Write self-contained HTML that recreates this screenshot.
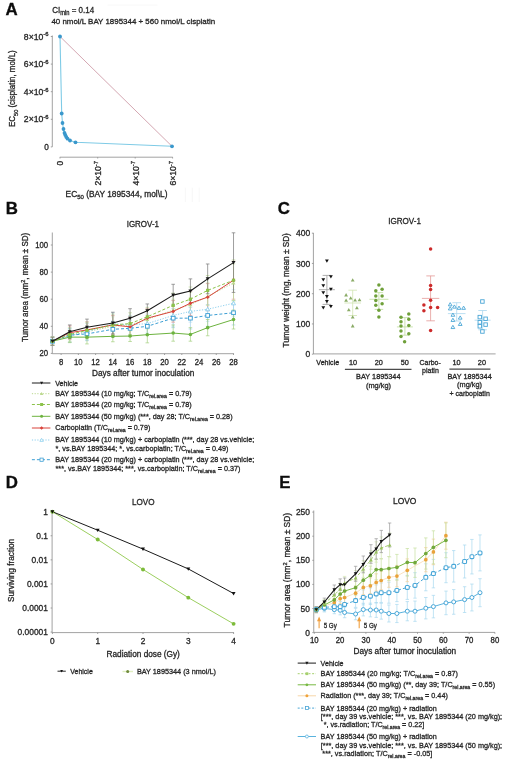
<!DOCTYPE html>
<html><head><meta charset="utf-8"><style>
html,body{margin:0;padding:0;background:#fff;}
svg{display:block;font-family:"Liberation Sans",sans-serif;filter:blur(0.3px);}
</style></head><body>
<svg width="520" height="767" viewBox="0 0 520 767">
<rect width="520" height="767" fill="#fff"/>
<text transform="translate(5.6,14.7) scale(1.040,1)" font-size="16.2" text-anchor="start" font-weight="bold" fill="#0d0d0d" stroke="#0d0d0d" stroke-width="0.3">A</text>
<text transform="translate(5.8,213.6) scale(1.040,1)" font-size="16.2" text-anchor="start" font-weight="bold" fill="#0d0d0d" stroke="#0d0d0d" stroke-width="0.3">B</text>
<text transform="translate(277.7,213.6) scale(1.040,1)" font-size="16.2" text-anchor="start" font-weight="bold" fill="#0d0d0d" stroke="#0d0d0d" stroke-width="0.3">C</text>
<text transform="translate(5.8,487.8) scale(1.040,1)" font-size="16.2" text-anchor="start" font-weight="bold" fill="#0d0d0d" stroke="#0d0d0d" stroke-width="0.3">D</text>
<text transform="translate(279.2,487.8) scale(1.040,1)" font-size="16.2" text-anchor="start" font-weight="bold" fill="#0d0d0d" stroke="#0d0d0d" stroke-width="0.3">E</text>
<text transform="translate(52.3,12.5) scale(0.887,1)" font-size="9" text-anchor="start" fill="#262626" stroke="#262626" stroke-width="0.3">CI<tspan dy="2.34" font-size="6.48">min</tspan><tspan dy="-2.34"> = 0.14</tspan></text>
<text transform="translate(51.4,23.5) scale(1.005,1)" font-size="7.9" text-anchor="start" fill="#262626" stroke="#262626" stroke-width="0.3">40 nmol/L BAY 1895344 + 560 nmol/L cisplatin</text>
<line x1="52.3" y1="35.5" x2="52.3" y2="146.9" stroke="#8a8a8a" stroke-width="0.8" />
<line x1="50.8" y1="146.9" x2="52.3" y2="146.9" stroke="#8a8a8a" stroke-width="0.8" />
<text transform="translate(48.8,149.8)" font-size="8.2" text-anchor="end" fill="#262626" stroke="#262626" stroke-width="0.3">0</text>
<line x1="50.8" y1="119.3" x2="52.3" y2="119.3" stroke="#8a8a8a" stroke-width="0.8" />
<text transform="translate(23.8,122.3) scale(1.059,1)" font-size="8.2" text-anchor="start" fill="#262626" stroke="#262626" stroke-width="0.3">2×10<tspan dy="-3.12" font-size="5.58">-6</tspan></text>
<line x1="50.8" y1="91.7" x2="52.3" y2="91.7" stroke="#8a8a8a" stroke-width="0.8" />
<text transform="translate(23.8,94.7) scale(1.059,1)" font-size="8.2" text-anchor="start" fill="#262626" stroke="#262626" stroke-width="0.3">4×10<tspan dy="-3.12" font-size="5.58">-6</tspan></text>
<line x1="50.8" y1="64.1" x2="52.3" y2="64.1" stroke="#8a8a8a" stroke-width="0.8" />
<text transform="translate(23.8,67.1) scale(1.059,1)" font-size="8.2" text-anchor="start" fill="#262626" stroke="#262626" stroke-width="0.3">6×10<tspan dy="-3.12" font-size="5.58">-6</tspan></text>
<line x1="50.8" y1="36.5" x2="52.3" y2="36.5" stroke="#8a8a8a" stroke-width="0.8" />
<text transform="translate(23.8,39.5) scale(1.059,1)" font-size="8.2" text-anchor="start" fill="#262626" stroke="#262626" stroke-width="0.3">8×10<tspan dy="-3.12" font-size="5.58">-6</tspan></text>
<text transform="translate(15.4,126.9) rotate(-90) scale(0.947,1)" font-size="8.3" text-anchor="start" fill="#262626" stroke="#262626" stroke-width="0.3">EC<tspan dy="2.16" font-size="5.98">50</tspan><tspan dy="-2.16"> (cisplatin, mol/L)</tspan></text>
<line x1="59.8" y1="157.2" x2="172.8" y2="157.2" stroke="#8a8a8a" stroke-width="0.8" />
<line x1="60" y1="157.2" x2="60" y2="158.5" stroke="#8a8a8a" stroke-width="0.8" />
<text transform="translate(63.1,161) rotate(-90)" font-size="8.2" text-anchor="end" fill="#262626" stroke="#262626" stroke-width="0.3">0</text>
<line x1="97.7" y1="157.2" x2="97.7" y2="158.5" stroke="#8a8a8a" stroke-width="0.8" />
<text transform="translate(101,161) rotate(-90) scale(1.050,1)" font-size="8.2" text-anchor="end" fill="#262626" stroke="#262626" stroke-width="0.3">2×10<tspan dy="-3.12" font-size="5.58">-7</tspan></text>
<line x1="135.2" y1="157.2" x2="135.2" y2="158.5" stroke="#8a8a8a" stroke-width="0.8" />
<text transform="translate(138.5,161) rotate(-90) scale(1.050,1)" font-size="8.2" text-anchor="end" fill="#262626" stroke="#262626" stroke-width="0.3">4×10<tspan dy="-3.12" font-size="5.58">-7</tspan></text>
<line x1="172.6" y1="157.2" x2="172.6" y2="158.5" stroke="#8a8a8a" stroke-width="0.8" />
<text transform="translate(175.9,161) rotate(-90) scale(1.050,1)" font-size="8.2" text-anchor="end" fill="#262626" stroke="#262626" stroke-width="0.3">6×10<tspan dy="-3.12" font-size="5.58">-7</tspan></text>
<text transform="translate(65.6,196.6) scale(1.005,1)" font-size="8.3" text-anchor="start" fill="#262626" stroke="#262626" stroke-width="0.3">EC<tspan dy="2.16" font-size="5.98">50</tspan><tspan dy="-2.16"> (BAY 1895344, mol\L)</tspan></text>
<line x1="185.4" y1="187.7" x2="185.4" y2="202" stroke="#f6f6f6" stroke-width="0.9" />
<line x1="192.3" y1="187.7" x2="192.3" y2="202" stroke="#f6f6f6" stroke-width="0.9" />
<line x1="199.2" y1="187.7" x2="199.2" y2="202" stroke="#f7f7f7" stroke-width="0.9" />
<line x1="107.5" y1="5" x2="157.5" y2="5" stroke="#f6f6f6" stroke-width="0.8" />
<line x1="60" y1="36.5" x2="172" y2="146.3" stroke="#c9909e" stroke-width="0.8" />
<polyline points="60,36.5 61.7,113.5 62.5,123 63.5,129 64.5,133 65.3,135 66.3,137 67.5,138.7 70,140.5 75.5,142.3 172,146.3" fill="none" stroke="#7fcbe6" stroke-width="1.1" stroke-linejoin="round" />
<circle cx="60" cy="36.5" r="1.9" fill="#3a98cc"/>
<circle cx="61.7" cy="113.5" r="1.9" fill="#3a98cc"/>
<circle cx="62.5" cy="123" r="1.9" fill="#3a98cc"/>
<circle cx="63.5" cy="129" r="1.9" fill="#3a98cc"/>
<circle cx="64.5" cy="133" r="1.9" fill="#3a98cc"/>
<circle cx="65.3" cy="135" r="1.9" fill="#3a98cc"/>
<circle cx="66.3" cy="137" r="1.9" fill="#3a98cc"/>
<circle cx="67.5" cy="138.7" r="1.9" fill="#3a98cc"/>
<circle cx="70" cy="140.5" r="1.9" fill="#3a98cc"/>
<circle cx="75.5" cy="142.3" r="1.9" fill="#3a98cc"/>
<circle cx="172" cy="146.3" r="1.9" fill="#3a98cc"/>
<text transform="translate(142.85,226.5) scale(0.915,1)" font-size="8.7" text-anchor="middle" fill="#262626" stroke="#262626" stroke-width="0.3">IGROV-1</text>
<line x1="52.3" y1="232.5" x2="52.3" y2="353.7" stroke="#8a8a8a" stroke-width="0.8" />
<line x1="50.8" y1="353.4" x2="52.3" y2="353.4" stroke="#8a8a8a" stroke-width="0.8" />
<text transform="translate(48.1,356.4) scale(0.920,1)" font-size="8.4" text-anchor="end" fill="#262626" stroke="#262626" stroke-width="0.3">20</text>
<line x1="50.8" y1="326.3" x2="52.3" y2="326.3" stroke="#8a8a8a" stroke-width="0.8" />
<text transform="translate(48.1,329.3) scale(0.920,1)" font-size="8.4" text-anchor="end" fill="#262626" stroke="#262626" stroke-width="0.3">40</text>
<line x1="50.8" y1="299.2" x2="52.3" y2="299.2" stroke="#8a8a8a" stroke-width="0.8" />
<text transform="translate(48.1,302.2) scale(0.920,1)" font-size="8.4" text-anchor="end" fill="#262626" stroke="#262626" stroke-width="0.3">60</text>
<line x1="50.8" y1="272.1" x2="52.3" y2="272.1" stroke="#8a8a8a" stroke-width="0.8" />
<text transform="translate(48.1,275.1) scale(0.920,1)" font-size="8.4" text-anchor="end" fill="#262626" stroke="#262626" stroke-width="0.3">80</text>
<line x1="50.8" y1="245" x2="52.3" y2="245" stroke="#8a8a8a" stroke-width="0.8" />
<text transform="translate(48.1,248) scale(0.920,1)" font-size="8.4" text-anchor="end" fill="#262626" stroke="#262626" stroke-width="0.3">100</text>
<line x1="52.3" y1="353.7" x2="234" y2="353.7" stroke="#8a8a8a" stroke-width="0.8" />
<line x1="61.12" y1="353.7" x2="61.12" y2="355" stroke="#8a8a8a" stroke-width="0.8" />
<text transform="translate(61.12,364.8) scale(0.920,1)" font-size="8.4" text-anchor="middle" fill="#262626" stroke="#262626" stroke-width="0.3">8</text>
<line x1="78.36" y1="353.7" x2="78.36" y2="355" stroke="#8a8a8a" stroke-width="0.8" />
<text transform="translate(78.36,364.8) scale(0.920,1)" font-size="8.4" text-anchor="middle" fill="#262626" stroke="#262626" stroke-width="0.3">10</text>
<line x1="95.6" y1="353.7" x2="95.6" y2="355" stroke="#8a8a8a" stroke-width="0.8" />
<text transform="translate(95.6,364.8) scale(0.920,1)" font-size="8.4" text-anchor="middle" fill="#262626" stroke="#262626" stroke-width="0.3">12</text>
<line x1="112.84" y1="353.7" x2="112.84" y2="355" stroke="#8a8a8a" stroke-width="0.8" />
<text transform="translate(112.84,364.8) scale(0.920,1)" font-size="8.4" text-anchor="middle" fill="#262626" stroke="#262626" stroke-width="0.3">14</text>
<line x1="130.08" y1="353.7" x2="130.08" y2="355" stroke="#8a8a8a" stroke-width="0.8" />
<text transform="translate(130.08,364.8) scale(0.920,1)" font-size="8.4" text-anchor="middle" fill="#262626" stroke="#262626" stroke-width="0.3">16</text>
<line x1="147.32" y1="353.7" x2="147.32" y2="355" stroke="#8a8a8a" stroke-width="0.8" />
<text transform="translate(147.32,364.8) scale(0.920,1)" font-size="8.4" text-anchor="middle" fill="#262626" stroke="#262626" stroke-width="0.3">18</text>
<line x1="164.56" y1="353.7" x2="164.56" y2="355" stroke="#8a8a8a" stroke-width="0.8" />
<text transform="translate(164.56,364.8) scale(0.920,1)" font-size="8.4" text-anchor="middle" fill="#262626" stroke="#262626" stroke-width="0.3">20</text>
<line x1="181.8" y1="353.7" x2="181.8" y2="355" stroke="#8a8a8a" stroke-width="0.8" />
<text transform="translate(181.8,364.8) scale(0.920,1)" font-size="8.4" text-anchor="middle" fill="#262626" stroke="#262626" stroke-width="0.3">22</text>
<line x1="199.04" y1="353.7" x2="199.04" y2="355" stroke="#8a8a8a" stroke-width="0.8" />
<text transform="translate(199.04,364.8) scale(0.920,1)" font-size="8.4" text-anchor="middle" fill="#262626" stroke="#262626" stroke-width="0.3">24</text>
<line x1="216.28" y1="353.7" x2="216.28" y2="355" stroke="#8a8a8a" stroke-width="0.8" />
<text transform="translate(216.28,364.8) scale(0.920,1)" font-size="8.4" text-anchor="middle" fill="#262626" stroke="#262626" stroke-width="0.3">26</text>
<line x1="233.52" y1="353.7" x2="233.52" y2="355" stroke="#8a8a8a" stroke-width="0.8" />
<text transform="translate(233.52,364.8) scale(0.920,1)" font-size="8.4" text-anchor="middle" fill="#262626" stroke="#262626" stroke-width="0.3">28</text>
<text transform="translate(92.1,376) scale(0.991,1)" font-size="8.3" text-anchor="start" fill="#262626" stroke="#262626" stroke-width="0.3">Days after tumor inoculation</text>
<text transform="translate(27.8,342) rotate(-90) scale(0.964,1)" font-size="8.3" text-anchor="start" fill="#262626" stroke="#262626" stroke-width="0.3">Tumor area (mm<tspan dy="-3.15" font-size="5.64">2</tspan><tspan dy="3.15">, mean ± SD)</tspan></text>
<line x1="52.5" y1="337.14" x2="52.5" y2="345.27" stroke="#d8e9bd" stroke-width="0.7" />
<line x1="50.7" y1="337.14" x2="54.3" y2="337.14" stroke="#d8e9bd" stroke-width="0.7" />
<line x1="50.7" y1="345.27" x2="54.3" y2="345.27" stroke="#d8e9bd" stroke-width="0.7" />
<line x1="69.74" y1="329.01" x2="69.74" y2="342.56" stroke="#d8e9bd" stroke-width="0.7" />
<line x1="67.94" y1="329.01" x2="71.54" y2="329.01" stroke="#d8e9bd" stroke-width="0.7" />
<line x1="67.94" y1="342.56" x2="71.54" y2="342.56" stroke="#d8e9bd" stroke-width="0.7" />
<line x1="86.98" y1="323.59" x2="86.98" y2="339.85" stroke="#d8e9bd" stroke-width="0.7" />
<line x1="85.18" y1="323.59" x2="88.78" y2="323.59" stroke="#d8e9bd" stroke-width="0.7" />
<line x1="85.18" y1="339.85" x2="88.78" y2="339.85" stroke="#d8e9bd" stroke-width="0.7" />
<line x1="112.84" y1="316.81" x2="112.84" y2="335.78" stroke="#d8e9bd" stroke-width="0.7" />
<line x1="111.04" y1="316.81" x2="114.64" y2="316.81" stroke="#d8e9bd" stroke-width="0.7" />
<line x1="111.04" y1="335.78" x2="114.64" y2="335.78" stroke="#d8e9bd" stroke-width="0.7" />
<line x1="130.08" y1="315.46" x2="130.08" y2="334.43" stroke="#d8e9bd" stroke-width="0.7" />
<line x1="128.28" y1="315.46" x2="131.88" y2="315.46" stroke="#d8e9bd" stroke-width="0.7" />
<line x1="128.28" y1="334.43" x2="131.88" y2="334.43" stroke="#d8e9bd" stroke-width="0.7" />
<line x1="147.32" y1="310.04" x2="147.32" y2="329.01" stroke="#d8e9bd" stroke-width="0.7" />
<line x1="145.52" y1="310.04" x2="149.12" y2="310.04" stroke="#d8e9bd" stroke-width="0.7" />
<line x1="145.52" y1="329.01" x2="149.12" y2="329.01" stroke="#d8e9bd" stroke-width="0.7" />
<line x1="173.18" y1="299.2" x2="173.18" y2="320.88" stroke="#d8e9bd" stroke-width="0.7" />
<line x1="171.38" y1="299.2" x2="174.98" y2="299.2" stroke="#d8e9bd" stroke-width="0.7" />
<line x1="171.38" y1="320.88" x2="174.98" y2="320.88" stroke="#d8e9bd" stroke-width="0.7" />
<line x1="190.42" y1="292.42" x2="190.42" y2="316.81" stroke="#d8e9bd" stroke-width="0.7" />
<line x1="188.62" y1="292.42" x2="192.22" y2="292.42" stroke="#d8e9bd" stroke-width="0.7" />
<line x1="188.62" y1="316.81" x2="192.22" y2="316.81" stroke="#d8e9bd" stroke-width="0.7" />
<line x1="207.66" y1="282.94" x2="207.66" y2="310.04" stroke="#d8e9bd" stroke-width="0.7" />
<line x1="205.86" y1="282.94" x2="209.46" y2="282.94" stroke="#d8e9bd" stroke-width="0.7" />
<line x1="205.86" y1="310.04" x2="209.46" y2="310.04" stroke="#d8e9bd" stroke-width="0.7" />
<line x1="233.52" y1="263.97" x2="233.52" y2="301.91" stroke="#d8e9bd" stroke-width="0.7" />
<line x1="231.72" y1="263.97" x2="235.32" y2="263.97" stroke="#d8e9bd" stroke-width="0.7" />
<line x1="231.72" y1="301.91" x2="235.32" y2="301.91" stroke="#d8e9bd" stroke-width="0.7" />
<line x1="52.5" y1="337.14" x2="52.5" y2="345.27" stroke="#bfe3f3" stroke-width="0.7" />
<line x1="50.7" y1="337.14" x2="54.3" y2="337.14" stroke="#bfe3f3" stroke-width="0.7" />
<line x1="50.7" y1="345.27" x2="54.3" y2="345.27" stroke="#bfe3f3" stroke-width="0.7" />
<line x1="69.74" y1="329.01" x2="69.74" y2="342.56" stroke="#bfe3f3" stroke-width="0.7" />
<line x1="67.94" y1="329.01" x2="71.54" y2="329.01" stroke="#bfe3f3" stroke-width="0.7" />
<line x1="67.94" y1="342.56" x2="71.54" y2="342.56" stroke="#bfe3f3" stroke-width="0.7" />
<line x1="86.98" y1="323.59" x2="86.98" y2="339.85" stroke="#bfe3f3" stroke-width="0.7" />
<line x1="85.18" y1="323.59" x2="88.78" y2="323.59" stroke="#bfe3f3" stroke-width="0.7" />
<line x1="85.18" y1="339.85" x2="88.78" y2="339.85" stroke="#bfe3f3" stroke-width="0.7" />
<line x1="112.84" y1="312.75" x2="112.84" y2="334.43" stroke="#bfe3f3" stroke-width="0.7" />
<line x1="111.04" y1="312.75" x2="114.64" y2="312.75" stroke="#bfe3f3" stroke-width="0.7" />
<line x1="111.04" y1="334.43" x2="114.64" y2="334.43" stroke="#bfe3f3" stroke-width="0.7" />
<line x1="130.08" y1="315.46" x2="130.08" y2="334.43" stroke="#bfe3f3" stroke-width="0.7" />
<line x1="128.28" y1="315.46" x2="131.88" y2="315.46" stroke="#bfe3f3" stroke-width="0.7" />
<line x1="128.28" y1="334.43" x2="131.88" y2="334.43" stroke="#bfe3f3" stroke-width="0.7" />
<line x1="147.32" y1="314.1" x2="147.32" y2="333.07" stroke="#bfe3f3" stroke-width="0.7" />
<line x1="145.52" y1="314.1" x2="149.12" y2="314.1" stroke="#bfe3f3" stroke-width="0.7" />
<line x1="145.52" y1="333.07" x2="149.12" y2="333.07" stroke="#bfe3f3" stroke-width="0.7" />
<line x1="173.18" y1="304.62" x2="173.18" y2="326.3" stroke="#bfe3f3" stroke-width="0.7" />
<line x1="171.38" y1="304.62" x2="174.98" y2="304.62" stroke="#bfe3f3" stroke-width="0.7" />
<line x1="171.38" y1="326.3" x2="174.98" y2="326.3" stroke="#bfe3f3" stroke-width="0.7" />
<line x1="190.42" y1="300.55" x2="190.42" y2="322.23" stroke="#bfe3f3" stroke-width="0.7" />
<line x1="188.62" y1="300.55" x2="192.22" y2="300.55" stroke="#bfe3f3" stroke-width="0.7" />
<line x1="188.62" y1="322.23" x2="192.22" y2="322.23" stroke="#bfe3f3" stroke-width="0.7" />
<line x1="207.66" y1="297.03" x2="207.66" y2="321.42" stroke="#bfe3f3" stroke-width="0.7" />
<line x1="205.86" y1="297.03" x2="209.46" y2="297.03" stroke="#bfe3f3" stroke-width="0.7" />
<line x1="205.86" y1="321.42" x2="209.46" y2="321.42" stroke="#bfe3f3" stroke-width="0.7" />
<line x1="233.52" y1="289.71" x2="233.52" y2="316.81" stroke="#bfe3f3" stroke-width="0.7" />
<line x1="231.72" y1="289.71" x2="235.32" y2="289.71" stroke="#bfe3f3" stroke-width="0.7" />
<line x1="231.72" y1="316.81" x2="235.32" y2="316.81" stroke="#bfe3f3" stroke-width="0.7" />
<line x1="52.5" y1="337.14" x2="52.5" y2="345.27" stroke="#9fcfea" stroke-width="0.7" />
<line x1="50.7" y1="337.14" x2="54.3" y2="337.14" stroke="#9fcfea" stroke-width="0.7" />
<line x1="50.7" y1="345.27" x2="54.3" y2="345.27" stroke="#9fcfea" stroke-width="0.7" />
<line x1="69.74" y1="328.33" x2="69.74" y2="341.88" stroke="#9fcfea" stroke-width="0.7" />
<line x1="67.94" y1="328.33" x2="71.54" y2="328.33" stroke="#9fcfea" stroke-width="0.7" />
<line x1="67.94" y1="341.88" x2="71.54" y2="341.88" stroke="#9fcfea" stroke-width="0.7" />
<line x1="86.98" y1="327.11" x2="86.98" y2="340.66" stroke="#9fcfea" stroke-width="0.7" />
<line x1="85.18" y1="327.11" x2="88.78" y2="327.11" stroke="#9fcfea" stroke-width="0.7" />
<line x1="85.18" y1="340.66" x2="88.78" y2="340.66" stroke="#9fcfea" stroke-width="0.7" />
<line x1="112.84" y1="321.15" x2="112.84" y2="337.41" stroke="#9fcfea" stroke-width="0.7" />
<line x1="111.04" y1="321.15" x2="114.64" y2="321.15" stroke="#9fcfea" stroke-width="0.7" />
<line x1="111.04" y1="337.41" x2="114.64" y2="337.41" stroke="#9fcfea" stroke-width="0.7" />
<line x1="130.08" y1="320.2" x2="130.08" y2="336.46" stroke="#9fcfea" stroke-width="0.7" />
<line x1="128.28" y1="320.2" x2="131.88" y2="320.2" stroke="#9fcfea" stroke-width="0.7" />
<line x1="128.28" y1="336.46" x2="131.88" y2="336.46" stroke="#9fcfea" stroke-width="0.7" />
<line x1="147.32" y1="318.17" x2="147.32" y2="334.43" stroke="#9fcfea" stroke-width="0.7" />
<line x1="145.52" y1="318.17" x2="149.12" y2="318.17" stroke="#9fcfea" stroke-width="0.7" />
<line x1="145.52" y1="334.43" x2="149.12" y2="334.43" stroke="#9fcfea" stroke-width="0.7" />
<line x1="173.18" y1="308.69" x2="173.18" y2="327.65" stroke="#9fcfea" stroke-width="0.7" />
<line x1="171.38" y1="308.69" x2="174.98" y2="308.69" stroke="#9fcfea" stroke-width="0.7" />
<line x1="171.38" y1="327.65" x2="174.98" y2="327.65" stroke="#9fcfea" stroke-width="0.7" />
<line x1="190.42" y1="307.33" x2="190.42" y2="329.01" stroke="#9fcfea" stroke-width="0.7" />
<line x1="188.62" y1="307.33" x2="192.22" y2="307.33" stroke="#9fcfea" stroke-width="0.7" />
<line x1="188.62" y1="329.01" x2="192.22" y2="329.01" stroke="#9fcfea" stroke-width="0.7" />
<line x1="207.66" y1="304.62" x2="207.66" y2="326.3" stroke="#9fcfea" stroke-width="0.7" />
<line x1="205.86" y1="304.62" x2="209.46" y2="304.62" stroke="#9fcfea" stroke-width="0.7" />
<line x1="205.86" y1="326.3" x2="209.46" y2="326.3" stroke="#9fcfea" stroke-width="0.7" />
<line x1="233.52" y1="300.55" x2="233.52" y2="324.94" stroke="#9fcfea" stroke-width="0.7" />
<line x1="231.72" y1="300.55" x2="235.32" y2="300.55" stroke="#9fcfea" stroke-width="0.7" />
<line x1="231.72" y1="324.94" x2="235.32" y2="324.94" stroke="#9fcfea" stroke-width="0.7" />
<line x1="52.5" y1="337.14" x2="52.5" y2="345.27" stroke="#a5d080" stroke-width="0.7" />
<line x1="50.7" y1="337.14" x2="54.3" y2="337.14" stroke="#a5d080" stroke-width="0.7" />
<line x1="50.7" y1="345.27" x2="54.3" y2="345.27" stroke="#a5d080" stroke-width="0.7" />
<line x1="69.74" y1="331.72" x2="69.74" y2="342.56" stroke="#a5d080" stroke-width="0.7" />
<line x1="67.94" y1="331.72" x2="71.54" y2="331.72" stroke="#a5d080" stroke-width="0.7" />
<line x1="67.94" y1="342.56" x2="71.54" y2="342.56" stroke="#a5d080" stroke-width="0.7" />
<line x1="86.98" y1="330.36" x2="86.98" y2="343.91" stroke="#a5d080" stroke-width="0.7" />
<line x1="85.18" y1="330.36" x2="88.78" y2="330.36" stroke="#a5d080" stroke-width="0.7" />
<line x1="85.18" y1="343.91" x2="88.78" y2="343.91" stroke="#a5d080" stroke-width="0.7" />
<line x1="112.84" y1="330.91" x2="112.84" y2="341.75" stroke="#a5d080" stroke-width="0.7" />
<line x1="111.04" y1="330.91" x2="114.64" y2="330.91" stroke="#a5d080" stroke-width="0.7" />
<line x1="111.04" y1="341.75" x2="114.64" y2="341.75" stroke="#a5d080" stroke-width="0.7" />
<line x1="130.08" y1="330.64" x2="130.08" y2="341.48" stroke="#a5d080" stroke-width="0.7" />
<line x1="128.28" y1="330.64" x2="131.88" y2="330.64" stroke="#a5d080" stroke-width="0.7" />
<line x1="128.28" y1="341.48" x2="131.88" y2="341.48" stroke="#a5d080" stroke-width="0.7" />
<line x1="147.32" y1="326.57" x2="147.32" y2="342.83" stroke="#a5d080" stroke-width="0.7" />
<line x1="145.52" y1="326.57" x2="149.12" y2="326.57" stroke="#a5d080" stroke-width="0.7" />
<line x1="145.52" y1="342.83" x2="149.12" y2="342.83" stroke="#a5d080" stroke-width="0.7" />
<line x1="173.18" y1="324.94" x2="173.18" y2="341.2" stroke="#a5d080" stroke-width="0.7" />
<line x1="171.38" y1="324.94" x2="174.98" y2="324.94" stroke="#a5d080" stroke-width="0.7" />
<line x1="171.38" y1="341.2" x2="174.98" y2="341.2" stroke="#a5d080" stroke-width="0.7" />
<line x1="190.42" y1="327.65" x2="190.42" y2="341.2" stroke="#a5d080" stroke-width="0.7" />
<line x1="188.62" y1="327.65" x2="192.22" y2="327.65" stroke="#a5d080" stroke-width="0.7" />
<line x1="188.62" y1="341.2" x2="192.22" y2="341.2" stroke="#a5d080" stroke-width="0.7" />
<line x1="207.66" y1="319.52" x2="207.66" y2="335.78" stroke="#a5d080" stroke-width="0.7" />
<line x1="205.86" y1="319.52" x2="209.46" y2="319.52" stroke="#a5d080" stroke-width="0.7" />
<line x1="205.86" y1="335.78" x2="209.46" y2="335.78" stroke="#a5d080" stroke-width="0.7" />
<line x1="233.52" y1="310.04" x2="233.52" y2="329.01" stroke="#a5d080" stroke-width="0.7" />
<line x1="231.72" y1="310.04" x2="235.32" y2="310.04" stroke="#a5d080" stroke-width="0.7" />
<line x1="231.72" y1="329.01" x2="235.32" y2="329.01" stroke="#a5d080" stroke-width="0.7" />
<line x1="52.5" y1="337.14" x2="52.5" y2="345.27" stroke="#e29a95" stroke-width="0.7" />
<line x1="50.7" y1="337.14" x2="54.3" y2="337.14" stroke="#e29a95" stroke-width="0.7" />
<line x1="50.7" y1="345.27" x2="54.3" y2="345.27" stroke="#e29a95" stroke-width="0.7" />
<line x1="69.74" y1="325.89" x2="69.74" y2="339.44" stroke="#e29a95" stroke-width="0.7" />
<line x1="67.94" y1="325.89" x2="71.54" y2="325.89" stroke="#e29a95" stroke-width="0.7" />
<line x1="67.94" y1="339.44" x2="71.54" y2="339.44" stroke="#e29a95" stroke-width="0.7" />
<line x1="86.98" y1="321.83" x2="86.98" y2="338.09" stroke="#e29a95" stroke-width="0.7" />
<line x1="85.18" y1="321.83" x2="88.78" y2="321.83" stroke="#e29a95" stroke-width="0.7" />
<line x1="85.18" y1="338.09" x2="88.78" y2="338.09" stroke="#e29a95" stroke-width="0.7" />
<line x1="112.84" y1="315.46" x2="112.84" y2="334.43" stroke="#e29a95" stroke-width="0.7" />
<line x1="111.04" y1="315.46" x2="114.64" y2="315.46" stroke="#e29a95" stroke-width="0.7" />
<line x1="111.04" y1="334.43" x2="114.64" y2="334.43" stroke="#e29a95" stroke-width="0.7" />
<line x1="130.08" y1="317.36" x2="130.08" y2="336.33" stroke="#e29a95" stroke-width="0.7" />
<line x1="128.28" y1="317.36" x2="131.88" y2="317.36" stroke="#e29a95" stroke-width="0.7" />
<line x1="128.28" y1="336.33" x2="131.88" y2="336.33" stroke="#e29a95" stroke-width="0.7" />
<line x1="147.32" y1="308.69" x2="147.32" y2="327.65" stroke="#e29a95" stroke-width="0.7" />
<line x1="145.52" y1="308.69" x2="149.12" y2="308.69" stroke="#e29a95" stroke-width="0.7" />
<line x1="145.52" y1="327.65" x2="149.12" y2="327.65" stroke="#e29a95" stroke-width="0.7" />
<line x1="173.18" y1="300.55" x2="173.18" y2="322.23" stroke="#e29a95" stroke-width="0.7" />
<line x1="171.38" y1="300.55" x2="174.98" y2="300.55" stroke="#e29a95" stroke-width="0.7" />
<line x1="171.38" y1="322.23" x2="174.98" y2="322.23" stroke="#e29a95" stroke-width="0.7" />
<line x1="190.42" y1="291.07" x2="190.42" y2="315.46" stroke="#e29a95" stroke-width="0.7" />
<line x1="188.62" y1="291.07" x2="192.22" y2="291.07" stroke="#e29a95" stroke-width="0.7" />
<line x1="188.62" y1="315.46" x2="192.22" y2="315.46" stroke="#e29a95" stroke-width="0.7" />
<line x1="207.66" y1="283.62" x2="207.66" y2="310.72" stroke="#e29a95" stroke-width="0.7" />
<line x1="205.86" y1="283.62" x2="209.46" y2="283.62" stroke="#e29a95" stroke-width="0.7" />
<line x1="205.86" y1="310.72" x2="209.46" y2="310.72" stroke="#e29a95" stroke-width="0.7" />
<line x1="233.52" y1="261.26" x2="233.52" y2="299.2" stroke="#e29a95" stroke-width="0.7" />
<line x1="231.72" y1="261.26" x2="235.32" y2="261.26" stroke="#e29a95" stroke-width="0.7" />
<line x1="231.72" y1="299.2" x2="235.32" y2="299.2" stroke="#e29a95" stroke-width="0.7" />
<line x1="52.5" y1="337.14" x2="52.5" y2="345.27" stroke="#c2de9c" stroke-width="0.7" />
<line x1="50.7" y1="337.14" x2="54.3" y2="337.14" stroke="#c2de9c" stroke-width="0.7" />
<line x1="50.7" y1="345.27" x2="54.3" y2="345.27" stroke="#c2de9c" stroke-width="0.7" />
<line x1="69.74" y1="327.65" x2="69.74" y2="341.2" stroke="#c2de9c" stroke-width="0.7" />
<line x1="67.94" y1="327.65" x2="71.54" y2="327.65" stroke="#c2de9c" stroke-width="0.7" />
<line x1="67.94" y1="341.2" x2="71.54" y2="341.2" stroke="#c2de9c" stroke-width="0.7" />
<line x1="86.98" y1="322.23" x2="86.98" y2="338.5" stroke="#c2de9c" stroke-width="0.7" />
<line x1="85.18" y1="322.23" x2="88.78" y2="322.23" stroke="#c2de9c" stroke-width="0.7" />
<line x1="85.18" y1="338.5" x2="88.78" y2="338.5" stroke="#c2de9c" stroke-width="0.7" />
<line x1="112.84" y1="314.1" x2="112.84" y2="335.78" stroke="#c2de9c" stroke-width="0.7" />
<line x1="111.04" y1="314.1" x2="114.64" y2="314.1" stroke="#c2de9c" stroke-width="0.7" />
<line x1="111.04" y1="335.78" x2="114.64" y2="335.78" stroke="#c2de9c" stroke-width="0.7" />
<line x1="130.08" y1="312.75" x2="130.08" y2="334.43" stroke="#c2de9c" stroke-width="0.7" />
<line x1="128.28" y1="312.75" x2="131.88" y2="312.75" stroke="#c2de9c" stroke-width="0.7" />
<line x1="128.28" y1="334.43" x2="131.88" y2="334.43" stroke="#c2de9c" stroke-width="0.7" />
<line x1="147.32" y1="307.33" x2="147.32" y2="326.3" stroke="#c2de9c" stroke-width="0.7" />
<line x1="145.52" y1="307.33" x2="149.12" y2="307.33" stroke="#c2de9c" stroke-width="0.7" />
<line x1="145.52" y1="326.3" x2="149.12" y2="326.3" stroke="#c2de9c" stroke-width="0.7" />
<line x1="173.18" y1="293.1" x2="173.18" y2="317.49" stroke="#c2de9c" stroke-width="0.7" />
<line x1="171.38" y1="293.1" x2="174.98" y2="293.1" stroke="#c2de9c" stroke-width="0.7" />
<line x1="171.38" y1="317.49" x2="174.98" y2="317.49" stroke="#c2de9c" stroke-width="0.7" />
<line x1="190.42" y1="287" x2="190.42" y2="311.39" stroke="#c2de9c" stroke-width="0.7" />
<line x1="188.62" y1="287" x2="192.22" y2="287" stroke="#c2de9c" stroke-width="0.7" />
<line x1="188.62" y1="311.39" x2="192.22" y2="311.39" stroke="#c2de9c" stroke-width="0.7" />
<line x1="207.66" y1="275.49" x2="207.66" y2="305.3" stroke="#c2de9c" stroke-width="0.7" />
<line x1="205.86" y1="275.49" x2="209.46" y2="275.49" stroke="#c2de9c" stroke-width="0.7" />
<line x1="205.86" y1="305.3" x2="209.46" y2="305.3" stroke="#c2de9c" stroke-width="0.7" />
<line x1="233.52" y1="259.9" x2="233.52" y2="300.55" stroke="#c2de9c" stroke-width="0.7" />
<line x1="231.72" y1="259.9" x2="235.32" y2="259.9" stroke="#c2de9c" stroke-width="0.7" />
<line x1="231.72" y1="300.55" x2="235.32" y2="300.55" stroke="#c2de9c" stroke-width="0.7" />
<line x1="52.5" y1="337.14" x2="52.5" y2="345.27" stroke="#777" stroke-width="0.7" />
<line x1="50.7" y1="337.14" x2="54.3" y2="337.14" stroke="#777" stroke-width="0.7" />
<line x1="50.7" y1="345.27" x2="54.3" y2="345.27" stroke="#777" stroke-width="0.7" />
<line x1="69.74" y1="324.94" x2="69.74" y2="338.5" stroke="#777" stroke-width="0.7" />
<line x1="67.94" y1="324.94" x2="71.54" y2="324.94" stroke="#777" stroke-width="0.7" />
<line x1="67.94" y1="338.5" x2="71.54" y2="338.5" stroke="#777" stroke-width="0.7" />
<line x1="86.98" y1="319.12" x2="86.98" y2="335.38" stroke="#777" stroke-width="0.7" />
<line x1="85.18" y1="319.12" x2="88.78" y2="319.12" stroke="#777" stroke-width="0.7" />
<line x1="85.18" y1="335.38" x2="88.78" y2="335.38" stroke="#777" stroke-width="0.7" />
<line x1="112.84" y1="312.21" x2="112.84" y2="333.89" stroke="#777" stroke-width="0.7" />
<line x1="111.04" y1="312.21" x2="114.64" y2="312.21" stroke="#777" stroke-width="0.7" />
<line x1="111.04" y1="333.89" x2="114.64" y2="333.89" stroke="#777" stroke-width="0.7" />
<line x1="130.08" y1="308.69" x2="130.08" y2="327.65" stroke="#777" stroke-width="0.7" />
<line x1="128.28" y1="308.69" x2="131.88" y2="308.69" stroke="#777" stroke-width="0.7" />
<line x1="128.28" y1="327.65" x2="131.88" y2="327.65" stroke="#777" stroke-width="0.7" />
<line x1="147.32" y1="303.94" x2="147.32" y2="317.49" stroke="#777" stroke-width="0.7" />
<line x1="145.52" y1="303.94" x2="149.12" y2="303.94" stroke="#777" stroke-width="0.7" />
<line x1="145.52" y1="317.49" x2="149.12" y2="317.49" stroke="#777" stroke-width="0.7" />
<line x1="173.18" y1="284.29" x2="173.18" y2="305.97" stroke="#777" stroke-width="0.7" />
<line x1="171.38" y1="284.29" x2="174.98" y2="284.29" stroke="#777" stroke-width="0.7" />
<line x1="171.38" y1="305.97" x2="174.98" y2="305.97" stroke="#777" stroke-width="0.7" />
<line x1="190.42" y1="278.88" x2="190.42" y2="303.26" stroke="#777" stroke-width="0.7" />
<line x1="188.62" y1="278.88" x2="192.22" y2="278.88" stroke="#777" stroke-width="0.7" />
<line x1="188.62" y1="303.26" x2="192.22" y2="303.26" stroke="#777" stroke-width="0.7" />
<line x1="207.66" y1="263.97" x2="207.66" y2="293.78" stroke="#777" stroke-width="0.7" />
<line x1="205.86" y1="263.97" x2="209.46" y2="263.97" stroke="#777" stroke-width="0.7" />
<line x1="205.86" y1="293.78" x2="209.46" y2="293.78" stroke="#777" stroke-width="0.7" />
<line x1="233.52" y1="232.8" x2="233.52" y2="292.42" stroke="#777" stroke-width="0.7" />
<line x1="231.72" y1="232.8" x2="235.32" y2="232.8" stroke="#777" stroke-width="0.7" />
<line x1="231.72" y1="292.42" x2="235.32" y2="292.42" stroke="#777" stroke-width="0.7" />
<polyline points="52.5,341.2 69.74,335.78 86.98,331.72 112.84,326.3 130.08,324.94 147.32,319.52 173.18,310.04 190.42,304.62 207.66,296.49 233.52,282.94" fill="none" stroke="#bcd98f" stroke-width="1" stroke-dasharray="1.2,1.5" stroke-linejoin="round" />
<path d="M50.55 342.73L54.45 342.73L52.5 339.33Z" fill="#bcd98f"/>
<path d="M67.78 337.31L71.69 337.31L69.74 333.91Z" fill="#bcd98f"/>
<path d="M85.02 333.25L88.93 333.25L86.98 329.85Z" fill="#bcd98f"/>
<path d="M110.89 327.83L114.8 327.83L112.84 324.43Z" fill="#bcd98f"/>
<path d="M128.12 326.47L132.03 326.47L130.08 323.07Z" fill="#bcd98f"/>
<path d="M145.36 321.05L149.28 321.05L147.32 317.65Z" fill="#bcd98f"/>
<path d="M171.22 311.57L175.14 311.57L173.18 308.17Z" fill="#bcd98f"/>
<path d="M188.46 306.15L192.38 306.15L190.42 302.75Z" fill="#bcd98f"/>
<path d="M205.7 298.02L209.62 298.02L207.66 294.62Z" fill="#bcd98f"/>
<path d="M231.56 284.47L235.47 284.47L233.52 281.07Z" fill="#bcd98f"/>
<polyline points="52.5,341.2 69.74,335.78 86.98,331.72 112.84,323.59 130.08,324.94 147.32,323.59 173.18,315.46 190.42,311.39 207.66,309.23 233.52,303.26" fill="none" stroke="#8fd0ee" stroke-width="1" stroke-dasharray="1.2,1.5" stroke-linejoin="round" />
<path d="M50.47 342.78L54.53 342.78L52.5 339.26Z" fill="#fff" stroke="#8fd0ee" stroke-width="0.95"/>
<path d="M67.7 337.36L71.77 337.36L69.74 333.84Z" fill="#fff" stroke="#8fd0ee" stroke-width="0.95"/>
<path d="M84.94 333.29L89.01 333.29L86.98 329.78Z" fill="#fff" stroke="#8fd0ee" stroke-width="0.95"/>
<path d="M110.81 325.16L114.88 325.16L112.84 321.65Z" fill="#fff" stroke="#8fd0ee" stroke-width="0.95"/>
<path d="M128.04 326.52L132.11 326.52L130.08 323Z" fill="#fff" stroke="#8fd0ee" stroke-width="0.95"/>
<path d="M145.28 325.16L149.35 325.16L147.32 321.65Z" fill="#fff" stroke="#8fd0ee" stroke-width="0.95"/>
<path d="M171.15 317.03L175.22 317.03L173.18 313.52Z" fill="#fff" stroke="#8fd0ee" stroke-width="0.95"/>
<path d="M188.38 312.97L192.45 312.97L190.42 309.45Z" fill="#fff" stroke="#8fd0ee" stroke-width="0.95"/>
<path d="M205.62 310.8L209.69 310.8L207.66 307.28Z" fill="#fff" stroke="#8fd0ee" stroke-width="0.95"/>
<path d="M231.48 304.84L235.55 304.84L233.52 301.32Z" fill="#fff" stroke="#8fd0ee" stroke-width="0.95"/>
<polyline points="52.5,341.2 69.74,335.11 86.98,333.89 112.84,329.28 130.08,328.33 147.32,326.3 173.18,318.17 190.42,318.17 207.66,315.46 233.52,312.75" fill="none" stroke="#3d9fd4" stroke-width="1" stroke-dasharray="3,2" stroke-linejoin="round" />
<rect x="50.65" y="339.35" width="3.7" height="3.7" fill="#fff" stroke="#3d9fd4" stroke-width="0.95"/>
<rect x="67.89" y="333.26" width="3.7" height="3.7" fill="#fff" stroke="#3d9fd4" stroke-width="0.95"/>
<rect x="85.13" y="332.04" width="3.7" height="3.7" fill="#fff" stroke="#3d9fd4" stroke-width="0.95"/>
<rect x="110.99" y="327.43" width="3.7" height="3.7" fill="#fff" stroke="#3d9fd4" stroke-width="0.95"/>
<rect x="128.23" y="326.48" width="3.7" height="3.7" fill="#fff" stroke="#3d9fd4" stroke-width="0.95"/>
<rect x="145.47" y="324.45" width="3.7" height="3.7" fill="#fff" stroke="#3d9fd4" stroke-width="0.95"/>
<rect x="171.33" y="316.32" width="3.7" height="3.7" fill="#fff" stroke="#3d9fd4" stroke-width="0.95"/>
<rect x="188.57" y="316.32" width="3.7" height="3.7" fill="#fff" stroke="#3d9fd4" stroke-width="0.95"/>
<rect x="205.81" y="313.61" width="3.7" height="3.7" fill="#fff" stroke="#3d9fd4" stroke-width="0.95"/>
<rect x="231.67" y="310.9" width="3.7" height="3.7" fill="#fff" stroke="#3d9fd4" stroke-width="0.95"/>
<polyline points="52.5,341.2 69.74,337.14 86.98,337.14 112.84,336.33 130.08,336.06 147.32,334.7 173.18,333.07 190.42,334.43 207.66,327.65 233.52,319.52" fill="none" stroke="#6db33f" stroke-width="1" stroke-linejoin="round" />
<circle cx="52.5" cy="341.2" r="1.8" fill="#6db33f"/>
<circle cx="69.74" cy="337.14" r="1.8" fill="#6db33f"/>
<circle cx="86.98" cy="337.14" r="1.8" fill="#6db33f"/>
<circle cx="112.84" cy="336.33" r="1.8" fill="#6db33f"/>
<circle cx="130.08" cy="336.06" r="1.8" fill="#6db33f"/>
<circle cx="147.32" cy="334.7" r="1.8" fill="#6db33f"/>
<circle cx="173.18" cy="333.07" r="1.8" fill="#6db33f"/>
<circle cx="190.42" cy="334.43" r="1.8" fill="#6db33f"/>
<circle cx="207.66" cy="327.65" r="1.8" fill="#6db33f"/>
<circle cx="233.52" cy="319.52" r="1.8" fill="#6db33f"/>
<polyline points="52.5,341.2 69.74,332.67 86.98,329.96 112.84,324.94 130.08,326.84 147.32,318.17 173.18,311.39 190.42,303.26 207.66,297.17 233.52,280.23" fill="none" stroke="#d9433b" stroke-width="1" stroke-linejoin="round" />
<path d="M52.5 339.28L54.42 341.2L52.5 343.12L50.58 341.2Z" fill="#d9433b"/>
<path d="M69.74 330.75L71.66 332.67L69.74 334.59L67.82 332.67Z" fill="#d9433b"/>
<path d="M86.98 328.04L88.9 329.96L86.98 331.88L85.06 329.96Z" fill="#d9433b"/>
<path d="M112.84 323.02L114.76 324.94L112.84 326.87L110.92 324.94Z" fill="#d9433b"/>
<path d="M130.08 324.92L132 326.84L130.08 328.76L128.16 326.84Z" fill="#d9433b"/>
<path d="M147.32 316.25L149.24 318.17L147.32 320.09L145.4 318.17Z" fill="#d9433b"/>
<path d="M173.18 309.47L175.1 311.39L173.18 313.31L171.26 311.39Z" fill="#d9433b"/>
<path d="M190.42 301.34L192.34 303.26L190.42 305.19L188.5 303.26Z" fill="#d9433b"/>
<path d="M207.66 295.25L209.58 297.17L207.66 299.09L205.74 297.17Z" fill="#d9433b"/>
<path d="M233.52 278.31L235.44 280.23L233.52 282.15L231.6 280.23Z" fill="#d9433b"/>
<polyline points="52.5,341.2 69.74,334.43 86.98,330.36 112.84,324.94 130.08,323.59 147.32,316.81 173.18,305.3 190.42,299.2 207.66,290.39 233.52,280.23" fill="none" stroke="#8cc24a" stroke-width="1" stroke-dasharray="3,2" stroke-linejoin="round" />
<rect x="50.9" y="339.6" width="3.2" height="3.2" fill="#8cc24a"/>
<rect x="68.14" y="332.83" width="3.2" height="3.2" fill="#8cc24a"/>
<rect x="85.38" y="328.76" width="3.2" height="3.2" fill="#8cc24a"/>
<rect x="111.24" y="323.34" width="3.2" height="3.2" fill="#8cc24a"/>
<rect x="128.48" y="321.99" width="3.2" height="3.2" fill="#8cc24a"/>
<rect x="145.72" y="315.21" width="3.2" height="3.2" fill="#8cc24a"/>
<rect x="171.58" y="303.7" width="3.2" height="3.2" fill="#8cc24a"/>
<rect x="188.82" y="297.6" width="3.2" height="3.2" fill="#8cc24a"/>
<rect x="206.06" y="288.79" width="3.2" height="3.2" fill="#8cc24a"/>
<rect x="231.92" y="278.63" width="3.2" height="3.2" fill="#8cc24a"/>
<polyline points="52.5,341.2 69.74,331.72 86.98,327.25 112.84,323.05 130.08,318.17 147.32,310.72 173.18,295.13 190.42,291.07 207.66,278.88 233.52,262.62" fill="none" stroke="#1a1a1a" stroke-width="1.1" stroke-linejoin="round" />
<path d="M50.55 339.68L54.45 339.68L52.5 343.07Z" fill="#1a1a1a"/>
<path d="M67.78 330.19L71.69 330.19L69.74 333.59Z" fill="#1a1a1a"/>
<path d="M85.02 325.72L88.93 325.72L86.98 329.12Z" fill="#1a1a1a"/>
<path d="M110.89 321.52L114.8 321.52L112.84 324.92Z" fill="#1a1a1a"/>
<path d="M128.12 316.64L132.03 316.64L130.08 320.04Z" fill="#1a1a1a"/>
<path d="M145.36 309.19L149.28 309.19L147.32 312.59Z" fill="#1a1a1a"/>
<path d="M171.22 293.61L175.14 293.61L173.18 297Z" fill="#1a1a1a"/>
<path d="M188.46 289.54L192.38 289.54L190.42 292.94Z" fill="#1a1a1a"/>
<path d="M205.7 277.35L209.62 277.35L207.66 280.75Z" fill="#1a1a1a"/>
<path d="M231.56 261.09L235.47 261.09L233.52 264.49Z" fill="#1a1a1a"/>
<line x1="31.9" y1="383" x2="50.4" y2="383" stroke="#1a1a1a" stroke-width="1" />
<path d="M39.99 381.74L43.21 381.74L41.6 384.54Z" fill="#1a1a1a"/>
<text transform="translate(55.2,386) scale(0.888,1)" font-size="8" text-anchor="start" fill="#262626" stroke="#262626" stroke-width="0.3">Vehicle</text>
<line x1="31.9" y1="393.7" x2="50.4" y2="393.7" stroke="#bcd98f" stroke-width="1"  stroke-dasharray="1.2,1.5"/>
<path d="M39.88 395.05L43.33 395.05L41.6 392.05Z" fill="#bcd98f"/>
<text transform="translate(55.2,396) scale(0.909,1)" font-size="8" text-anchor="start" fill="#262626" stroke="#262626" stroke-width="0.3">BAY 1895344 (10 mg/kg; T/C<tspan dy="2.08" font-size="5.76">rel.area</tspan><tspan dy="-2.08"> = 0.79)</tspan></text>
<line x1="31.9" y1="404.5" x2="50.4" y2="404.5" stroke="#8cc24a" stroke-width="1"  stroke-dasharray="3,2"/>
<rect x="40.1" y="403" width="3" height="3" fill="#8cc24a"/>
<text transform="translate(55.2,407) scale(0.909,1)" font-size="8" text-anchor="start" fill="#262626" stroke="#262626" stroke-width="0.3">BAY 1895344 (20 mg/kg; T/C<tspan dy="2.08" font-size="5.76">rel.area</tspan><tspan dy="-2.08"> = 0.78)</tspan></text>
<line x1="31.9" y1="416.3" x2="50.4" y2="416.3" stroke="#6db33f" stroke-width="1" />
<circle cx="41.6" cy="416.3" r="1.5" fill="#6db33f"/>
<text transform="translate(55.2,418.5) scale(0.907,1)" font-size="8" text-anchor="start" fill="#262626" stroke="#262626" stroke-width="0.3">BAY 1895344 (50 mg/kg) (***, day 28; T/C<tspan dy="2.08" font-size="5.76">rel.area</tspan><tspan dy="-2.08"> = 0.28)</tspan></text>
<line x1="31.9" y1="428" x2="50.4" y2="428" stroke="#d9433b" stroke-width="1" />
<path d="M41.6 426.2L43.4 428L41.6 429.8L39.8 428Z" fill="#d9433b"/>
<text transform="translate(55.2,430.3) scale(0.902,1)" font-size="8" text-anchor="start" fill="#262626" stroke="#262626" stroke-width="0.3">Carboplatin (T/C<tspan dy="2.08" font-size="5.76">rel.area</tspan><tspan dy="-2.08"> = 0.79)</tspan></text>
<line x1="31.9" y1="440" x2="50.4" y2="440" stroke="#8fd0ee" stroke-width="1"  stroke-dasharray="1.2,1.5"/>
<path d="M39.84 441.36L43.36 441.36L41.6 438.32Z" fill="#fff" stroke="#8fd0ee" stroke-width="0.8"/>
<text transform="translate(55.2,441.8) scale(0.908,1)" font-size="8" text-anchor="start" fill="#262626" stroke="#262626" stroke-width="0.3">BAY 1895344 (10 mg/kg) + carboplatin (***, day 28 vs.vehicle;</text>
<line x1="31.9" y1="459.7" x2="50.4" y2="459.7" stroke="#3d9fd4" stroke-width="1"  stroke-dasharray="3,2"/>
<rect x="40" y="458.1" width="3.2" height="3.2" fill="#fff" stroke="#3d9fd4" stroke-width="0.8"/>
<text transform="translate(55.2,462.3) scale(0.908,1)" font-size="8" text-anchor="start" fill="#262626" stroke="#262626" stroke-width="0.3">BAY 1895344 (20 mg/kg) + carboplatin (***, day 28 vs.vehicle;</text>
<text transform="translate(55.5,451) scale(0.902,1)" font-size="8" text-anchor="start" fill="#262626" stroke="#262626" stroke-width="0.3">*, vs.BAY 1895344; *, vs.carboplatin; T/C<tspan dy="2.08" font-size="5.76">rel.area</tspan><tspan dy="-2.08"> = 0.49)</tspan></text>
<text transform="translate(55.5,470.8) scale(0.906,1)" font-size="8" text-anchor="start" fill="#262626" stroke="#262626" stroke-width="0.3">***, vs.BAY 1895344; ***, vs.carboplatin; T/C<tspan dy="2.08" font-size="5.76">rel.area</tspan><tspan dy="-2.08"> = 0.37)</tspan></text>
<text transform="translate(404.6,224) scale(0.927,1)" font-size="8.7" text-anchor="middle" fill="#262626" stroke="#262626" stroke-width="0.3">IGROV-1</text>
<line x1="313.4" y1="232.9" x2="313.4" y2="354" stroke="#8a8a8a" stroke-width="0.8" />
<line x1="311.9" y1="354.2" x2="313.4" y2="354.2" stroke="#8a8a8a" stroke-width="0.8" />
<text transform="translate(310.3,357.25)" font-size="8.5" text-anchor="end" fill="#262626" stroke="#262626" stroke-width="0.3">0</text>
<line x1="311.9" y1="323.95" x2="313.4" y2="323.95" stroke="#8a8a8a" stroke-width="0.8" />
<text transform="translate(310.3,327)" font-size="8.5" text-anchor="end" fill="#262626" stroke="#262626" stroke-width="0.3">100</text>
<line x1="311.9" y1="293.7" x2="313.4" y2="293.7" stroke="#8a8a8a" stroke-width="0.8" />
<text transform="translate(310.3,296.75)" font-size="8.5" text-anchor="end" fill="#262626" stroke="#262626" stroke-width="0.3">200</text>
<line x1="311.9" y1="263.45" x2="313.4" y2="263.45" stroke="#8a8a8a" stroke-width="0.8" />
<text transform="translate(310.3,266.5)" font-size="8.5" text-anchor="end" fill="#262626" stroke="#262626" stroke-width="0.3">300</text>
<line x1="311.9" y1="233.2" x2="313.4" y2="233.2" stroke="#8a8a8a" stroke-width="0.8" />
<text transform="translate(310.3,236.25)" font-size="8.5" text-anchor="end" fill="#262626" stroke="#262626" stroke-width="0.3">400</text>
<line x1="313.4" y1="353.9" x2="495.6" y2="353.9" stroke="#8a8a8a" stroke-width="0.8" />
<text transform="translate(288.7,347.4) rotate(-90) scale(0.992,1)" font-size="8.3" text-anchor="start" fill="#262626" stroke="#262626" stroke-width="0.3">Tumor weight (mg, mean ± SD)</text>
<text transform="translate(316.3,364.8) scale(0.973,1)" font-size="7.3" text-anchor="start" fill="#262626" stroke="#262626" stroke-width="0.3">Vehicle</text>
<text transform="translate(353,364.8)" font-size="7.3" text-anchor="middle" fill="#262626" stroke="#262626" stroke-width="0.3">10</text>
<text transform="translate(378.7,364.8)" font-size="7.3" text-anchor="middle" fill="#262626" stroke="#262626" stroke-width="0.3">20</text>
<text transform="translate(404.8,364.8)" font-size="7.3" text-anchor="middle" fill="#262626" stroke="#262626" stroke-width="0.3">50</text>
<text transform="translate(456.5,364.8)" font-size="7.3" text-anchor="middle" fill="#262626" stroke="#262626" stroke-width="0.3">10</text>
<text transform="translate(481.9,364.8)" font-size="7.3" text-anchor="middle" fill="#262626" stroke="#262626" stroke-width="0.3">20</text>
<text transform="translate(430.2,365.4) scale(0.937,1)" font-size="7.4" text-anchor="middle" fill="#262626" stroke="#262626" stroke-width="0.3">Carbo-</text>
<text transform="translate(430.4,373.1) scale(0.955,1)" font-size="7.4" text-anchor="middle" fill="#262626" stroke="#262626" stroke-width="0.3">platin</text>
<line x1="344.9" y1="369.4" x2="411.5" y2="369.4" stroke="#4a4a4a" stroke-width="1.2" />
<line x1="449.4" y1="369.2" x2="490.4" y2="369.2" stroke="#4a4a4a" stroke-width="1.2" />
<text transform="translate(378.3,379) scale(0.987,1)" font-size="7.4" text-anchor="middle" fill="#262626" stroke="#262626" stroke-width="0.3">BAY 1895344</text>
<text transform="translate(378.5,388) scale(0.997,1)" font-size="7.4" text-anchor="middle" fill="#262626" stroke="#262626" stroke-width="0.3">(mg/kg)</text>
<text transform="translate(469.6,378.5) scale(0.983,1)" font-size="7.4" text-anchor="middle" fill="#262626" stroke="#262626" stroke-width="0.3">BAY 1895344</text>
<text transform="translate(469.6,386.5) scale(0.997,1)" font-size="7.4" text-anchor="middle" fill="#262626" stroke="#262626" stroke-width="0.3">(mg/kg)</text>
<text transform="translate(469.6,396.2) scale(0.949,1)" font-size="7.4" text-anchor="middle" fill="#262626" stroke="#262626" stroke-width="0.3">+ carboplatin</text>
<line x1="326.9" y1="275.4" x2="326.9" y2="304.4" stroke="#999" stroke-width="0.8" />
<line x1="322.6" y1="275.4" x2="331.2" y2="275.4" stroke="#999" stroke-width="0.8" />
<line x1="322.6" y1="304.4" x2="331.2" y2="304.4" stroke="#999" stroke-width="0.8" />
<line x1="318.9" y1="289.7" x2="334.9" y2="289.7" stroke="#999" stroke-width="0.8" />
<path d="M325 259.41L328.8 259.41L326.9 262.71Z" fill="#111"/>
<path d="M329 275.21L332.8 275.21L330.9 278.51Z" fill="#111"/>
<path d="M321.4 278.21L325.2 278.21L323.3 281.51Z" fill="#111"/>
<path d="M321.4 284.31L325.2 284.31L323.3 287.62Z" fill="#111"/>
<path d="M329 287.71L332.8 287.71L330.9 291.01Z" fill="#111"/>
<path d="M321.4 291.21L325.2 291.21L323.3 294.51Z" fill="#111"/>
<path d="M325 295.12L328.8 295.12L326.9 298.42Z" fill="#111"/>
<path d="M325 300.01L328.8 300.01L326.9 303.31Z" fill="#111"/>
<path d="M329 304.91L332.8 304.91L330.9 308.21Z" fill="#111"/>
<path d="M321.4 306.31L325.2 306.31L323.3 309.62Z" fill="#111"/>
<line x1="352.7" y1="290.2" x2="352.7" y2="315.5" stroke="#cfe3b0" stroke-width="0.8" />
<line x1="348.4" y1="290.2" x2="357" y2="290.2" stroke="#cfe3b0" stroke-width="0.8" />
<line x1="348.4" y1="315.5" x2="357" y2="315.5" stroke="#cfe3b0" stroke-width="0.8" />
<line x1="344.4" y1="303" x2="361" y2="303" stroke="#cfe3b0" stroke-width="0.8" />
<path d="M350.8 281.49L354.6 281.49L352.7 278.19Z" fill="#8aab66"/>
<path d="M344.2 296.38L348 296.38L346.1 293.08Z" fill="#8aab66"/>
<path d="M348.8 299.49L352.6 299.49L350.7 296.19Z" fill="#8aab66"/>
<path d="M344.2 301.69L348 301.69L346.1 298.38Z" fill="#8aab66"/>
<path d="M353.2 301.49L357 301.49L355.1 298.19Z" fill="#8aab66"/>
<path d="M357.6 301.29L361.4 301.29L359.5 297.99Z" fill="#8aab66"/>
<path d="M346.9 311.29L350.7 311.29L348.8 307.99Z" fill="#8aab66"/>
<path d="M355 309.29L358.8 309.29L356.9 305.99Z" fill="#8aab66"/>
<path d="M350.8 318.59L354.6 318.59L352.7 315.29Z" fill="#8aab66"/>
<path d="M350.8 327.38L354.6 327.38L352.7 324.08Z" fill="#8aab66"/>
<line x1="378.9" y1="292.6" x2="378.9" y2="309.4" stroke="#bfdc9c" stroke-width="0.8" />
<line x1="374.6" y1="292.6" x2="383.2" y2="292.6" stroke="#bfdc9c" stroke-width="0.8" />
<line x1="374.6" y1="309.4" x2="383.2" y2="309.4" stroke="#bfdc9c" stroke-width="0.8" />
<line x1="369.4" y1="299.3" x2="388.4" y2="299.3" stroke="#bfdc9c" stroke-width="0.8" />
<circle cx="378.9" cy="285" r="1.75" fill="#6fa03a"/>
<circle cx="382.1" cy="289.2" r="1.75" fill="#6fa03a"/>
<circle cx="375.8" cy="290.7" r="1.75" fill="#6fa03a"/>
<circle cx="375.8" cy="296" r="1.75" fill="#6fa03a"/>
<circle cx="382.1" cy="296" r="1.75" fill="#6fa03a"/>
<circle cx="375.8" cy="300.6" r="1.75" fill="#6fa03a"/>
<circle cx="382.1" cy="303.7" r="1.75" fill="#6fa03a"/>
<circle cx="375.8" cy="305.3" r="1.75" fill="#6fa03a"/>
<circle cx="378.9" cy="310.2" r="1.75" fill="#6fa03a"/>
<circle cx="378.9" cy="317.1" r="1.75" fill="#6fa03a"/>
<line x1="404.9" y1="317.6" x2="404.9" y2="335.2" stroke="#bfdc9c" stroke-width="0.8" />
<line x1="400.6" y1="317.6" x2="409.2" y2="317.6" stroke="#bfdc9c" stroke-width="0.8" />
<line x1="400.6" y1="335.2" x2="409.2" y2="335.2" stroke="#bfdc9c" stroke-width="0.8" />
<line x1="396.9" y1="326.9" x2="412.9" y2="326.9" stroke="#bfdc9c" stroke-width="0.8" />
<circle cx="408.8" cy="314.1" r="1.75" fill="#6fa03a"/>
<circle cx="401" cy="317.3" r="1.75" fill="#6fa03a"/>
<circle cx="408.8" cy="319.2" r="1.75" fill="#6fa03a"/>
<circle cx="401" cy="321.8" r="1.75" fill="#6fa03a"/>
<circle cx="408.8" cy="325.4" r="1.75" fill="#6fa03a"/>
<circle cx="401" cy="326.1" r="1.75" fill="#6fa03a"/>
<circle cx="401" cy="331" r="1.75" fill="#6fa03a"/>
<circle cx="408.8" cy="333.7" r="1.75" fill="#6fa03a"/>
<circle cx="401" cy="336.4" r="1.75" fill="#6fa03a"/>
<circle cx="404.6" cy="341.7" r="1.75" fill="#6fa03a"/>
<line x1="430.6" y1="275.9" x2="430.6" y2="320.8" stroke="#e49a98" stroke-width="0.8" />
<line x1="426.3" y1="275.9" x2="434.9" y2="275.9" stroke="#e49a98" stroke-width="0.8" />
<line x1="426.3" y1="320.8" x2="434.9" y2="320.8" stroke="#e49a98" stroke-width="0.8" />
<line x1="421.9" y1="298.4" x2="439.3" y2="298.4" stroke="#e49a98" stroke-width="0.8" />
<circle cx="430.6" cy="249.1" r="1.75" fill="#cc2a2a"/>
<circle cx="430.6" cy="285.4" r="1.75" fill="#cc2a2a"/>
<circle cx="430.6" cy="289.5" r="1.75" fill="#cc2a2a"/>
<circle cx="430.6" cy="300.2" r="1.75" fill="#cc2a2a"/>
<circle cx="423.9" cy="304.9" r="1.75" fill="#cc2a2a"/>
<circle cx="430.6" cy="307.5" r="1.75" fill="#cc2a2a"/>
<circle cx="437.6" cy="307.5" r="1.75" fill="#cc2a2a"/>
<circle cx="423.9" cy="310.7" r="1.75" fill="#cc2a2a"/>
<circle cx="430.6" cy="330.6" r="1.75" fill="#cc2a2a"/>
<line x1="456.7" y1="302.7" x2="456.7" y2="321" stroke="#a9d6ee" stroke-width="0.8" />
<line x1="452.4" y1="302.7" x2="461" y2="302.7" stroke="#a9d6ee" stroke-width="0.8" />
<line x1="452.4" y1="321" x2="461" y2="321" stroke="#a9d6ee" stroke-width="0.8" />
<line x1="447.9" y1="313.6" x2="465.5" y2="313.6" stroke="#a9d6ee" stroke-width="0.8" />
<path d="M448.33 305.84L452.07 305.84L450.2 302.61Z" fill="#fff" stroke="#4aa6d6" stroke-width="0.9"/>
<path d="M448.33 309.94L452.07 309.94L450.2 306.71Z" fill="#fff" stroke="#4aa6d6" stroke-width="0.9"/>
<path d="M452.53 308.14L456.27 308.14L454.4 304.91Z" fill="#fff" stroke="#4aa6d6" stroke-width="0.9"/>
<path d="M457.13 309.34L460.87 309.34L459 306.11Z" fill="#fff" stroke="#4aa6d6" stroke-width="0.9"/>
<path d="M461.73 309.34L465.47 309.34L463.6 306.11Z" fill="#fff" stroke="#4aa6d6" stroke-width="0.9"/>
<path d="M451.03 316.25L454.77 316.25L452.9 313.01Z" fill="#fff" stroke="#4aa6d6" stroke-width="0.9"/>
<path d="M458.33 319.14L462.07 319.14L460.2 315.91Z" fill="#fff" stroke="#4aa6d6" stroke-width="0.9"/>
<path d="M451.03 321.44L454.77 321.44L452.9 318.21Z" fill="#fff" stroke="#4aa6d6" stroke-width="0.9"/>
<path d="M458.33 325.44L462.07 325.44L460.2 322.21Z" fill="#fff" stroke="#4aa6d6" stroke-width="0.9"/>
<path d="M451.03 328.55L454.77 328.55L452.9 325.31Z" fill="#fff" stroke="#4aa6d6" stroke-width="0.9"/>
<line x1="482.6" y1="310.5" x2="482.6" y2="329.8" stroke="#a9d6ee" stroke-width="0.8" />
<line x1="478.3" y1="310.5" x2="486.9" y2="310.5" stroke="#a9d6ee" stroke-width="0.8" />
<line x1="478.3" y1="329.8" x2="486.9" y2="329.8" stroke="#a9d6ee" stroke-width="0.8" />
<line x1="474.6" y1="320.2" x2="490.6" y2="320.2" stroke="#a9d6ee" stroke-width="0.8" />
<rect x="480.65" y="299.75" width="3.5" height="3.5" fill="#fff" stroke="#4aa6d6" stroke-width="0.9"/>
<rect x="478.05" y="315.35" width="3.5" height="3.5" fill="#fff" stroke="#4aa6d6" stroke-width="0.9"/>
<rect x="483.85" y="317.05" width="3.5" height="3.5" fill="#fff" stroke="#4aa6d6" stroke-width="0.9"/>
<rect x="478.05" y="320.55" width="3.5" height="3.5" fill="#fff" stroke="#4aa6d6" stroke-width="0.9"/>
<rect x="483.85" y="322.85" width="3.5" height="3.5" fill="#fff" stroke="#4aa6d6" stroke-width="0.9"/>
<rect x="478.05" y="324.55" width="3.5" height="3.5" fill="#fff" stroke="#4aa6d6" stroke-width="0.9"/>
<rect x="480.65" y="329.75" width="3.5" height="3.5" fill="#fff" stroke="#4aa6d6" stroke-width="0.9"/>
<text transform="translate(143.3,505.2) scale(0.924,1)" font-size="8.8" text-anchor="middle" fill="#262626" stroke="#262626" stroke-width="0.3">LOVO</text>
<line x1="52.1" y1="510.5" x2="52.1" y2="632.5" stroke="#8a8a8a" stroke-width="0.8" />
<line x1="50.6" y1="511.7" x2="52.1" y2="511.7" stroke="#8a8a8a" stroke-width="0.8" />
<text transform="translate(47.9,514.7)" font-size="8.4" text-anchor="end" fill="#262626" stroke="#262626" stroke-width="0.3">1</text>
<line x1="50.6" y1="535.78" x2="52.1" y2="535.78" stroke="#8a8a8a" stroke-width="0.8" />
<text transform="translate(47.9,538.78)" font-size="8.4" text-anchor="end" fill="#262626" stroke="#262626" stroke-width="0.3">0.1</text>
<line x1="50.6" y1="559.86" x2="52.1" y2="559.86" stroke="#8a8a8a" stroke-width="0.8" />
<text transform="translate(47.9,562.86)" font-size="8.4" text-anchor="end" fill="#262626" stroke="#262626" stroke-width="0.3">0.01</text>
<line x1="50.6" y1="583.94" x2="52.1" y2="583.94" stroke="#8a8a8a" stroke-width="0.8" />
<text transform="translate(47.9,586.94)" font-size="8.4" text-anchor="end" fill="#262626" stroke="#262626" stroke-width="0.3">0.001</text>
<line x1="50.6" y1="608.02" x2="52.1" y2="608.02" stroke="#8a8a8a" stroke-width="0.8" />
<text transform="translate(47.9,611.02)" font-size="8.4" text-anchor="end" fill="#262626" stroke="#262626" stroke-width="0.3">0.0001</text>
<line x1="50.6" y1="632.1" x2="52.1" y2="632.1" stroke="#8a8a8a" stroke-width="0.8" />
<text transform="translate(47.9,635.1)" font-size="8.4" text-anchor="end" fill="#262626" stroke="#262626" stroke-width="0.3">0.00001</text>
<line x1="52.1" y1="632.6" x2="234" y2="632.6" stroke="#8a8a8a" stroke-width="0.8" />
<line x1="52.4" y1="632.6" x2="52.4" y2="634" stroke="#8a8a8a" stroke-width="0.8" />
<text transform="translate(52.4,644.2)" font-size="8.3" text-anchor="middle" fill="#262626" stroke="#262626" stroke-width="0.3">0</text>
<line x1="97.7" y1="632.6" x2="97.7" y2="634" stroke="#8a8a8a" stroke-width="0.8" />
<text transform="translate(97.7,644.2)" font-size="8.3" text-anchor="middle" fill="#262626" stroke="#262626" stroke-width="0.3">1</text>
<line x1="143" y1="632.6" x2="143" y2="634" stroke="#8a8a8a" stroke-width="0.8" />
<text transform="translate(143,644.2)" font-size="8.3" text-anchor="middle" fill="#262626" stroke="#262626" stroke-width="0.3">2</text>
<line x1="188.3" y1="632.6" x2="188.3" y2="634" stroke="#8a8a8a" stroke-width="0.8" />
<text transform="translate(188.3,644.2)" font-size="8.3" text-anchor="middle" fill="#262626" stroke="#262626" stroke-width="0.3">3</text>
<line x1="233.6" y1="632.6" x2="233.6" y2="634" stroke="#8a8a8a" stroke-width="0.8" />
<text transform="translate(233.6,644.2)" font-size="8.3" text-anchor="middle" fill="#262626" stroke="#262626" stroke-width="0.3">4</text>
<text transform="translate(106.5,656.7) scale(0.996,1)" font-size="8.3" text-anchor="start" fill="#262626" stroke="#262626" stroke-width="0.3">Radiation dose (Gy)</text>
<text transform="translate(14.2,602) rotate(-90) scale(0.994,1)" font-size="8.3" text-anchor="start" fill="#262626" stroke="#262626" stroke-width="0.3">Surviving fraction</text>
<polyline points="52.4,511.7 97.7,539.51 143,569.44 188.3,597.63 233.6,623.85" fill="none" stroke="#9ccf5f" stroke-width="1" stroke-linejoin="round" />
<polyline points="52.4,511.7 97.7,530.23 143,549.09 188.3,568.93 233.6,593.52" fill="none" stroke="#1a1a1a" stroke-width="1" stroke-linejoin="round" />
<circle cx="52.4" cy="511.7" r="1.95" fill="#7dbb3a"/>
<circle cx="97.7" cy="539.51" r="1.95" fill="#7dbb3a"/>
<circle cx="143" cy="569.44" r="1.95" fill="#7dbb3a"/>
<circle cx="188.3" cy="597.63" r="1.95" fill="#7dbb3a"/>
<circle cx="233.6" cy="623.85" r="1.95" fill="#7dbb3a"/>
<path d="M50.45 510.17L54.35 510.17L52.4 513.57Z" fill="#111"/>
<path d="M95.74 528.7L99.65 528.7L97.7 532.1Z" fill="#111"/>
<path d="M141.04 547.56L144.96 547.56L143 550.96Z" fill="#111"/>
<path d="M186.34 567.4L190.25 567.4L188.3 570.8Z" fill="#111"/>
<path d="M231.64 591.99L235.56 591.99L233.6 595.39Z" fill="#111"/>
<line x1="57.5" y1="671.2" x2="65.8" y2="671.2" stroke="#111" stroke-width="0.9" />
<path d="M60.22 670.12L62.98 670.12L61.6 672.52Z" fill="#111"/>
<text transform="translate(70.2,674.4) scale(0.876,1)" font-size="8" text-anchor="start" fill="#262626" stroke="#262626" stroke-width="0.3">Vehicle</text>
<line x1="122.5" y1="671.5" x2="133" y2="671.5" stroke="#dfeec0" stroke-width="1.4" />
<circle cx="127.7" cy="671.5" r="1.5" fill="#6f8a3c"/>
<text transform="translate(136.9,674.2) scale(0.911,1)" font-size="8" text-anchor="start" fill="#262626" stroke="#262626" stroke-width="0.3">BAY 1895344 (3 nmol/L)</text>
<text transform="translate(404.7,504.4) scale(0.961,1)" font-size="8.8" text-anchor="middle" fill="#262626" stroke="#262626" stroke-width="0.3">LOVO</text>
<line x1="313.75" y1="510.5" x2="313.75" y2="632.5" stroke="#8a8a8a" stroke-width="0.8" />
<line x1="312.3" y1="632.6" x2="313.75" y2="632.6" stroke="#8a8a8a" stroke-width="0.8" />
<text transform="translate(309.9,635.6)" font-size="8.4" text-anchor="end" fill="#262626" stroke="#262626" stroke-width="0.3">0</text>
<line x1="312.3" y1="608.5" x2="313.75" y2="608.5" stroke="#8a8a8a" stroke-width="0.8" />
<text transform="translate(309.9,611.5)" font-size="8.4" text-anchor="end" fill="#262626" stroke="#262626" stroke-width="0.3">50</text>
<line x1="312.3" y1="584.4" x2="313.75" y2="584.4" stroke="#8a8a8a" stroke-width="0.8" />
<text transform="translate(309.9,587.4)" font-size="8.4" text-anchor="end" fill="#262626" stroke="#262626" stroke-width="0.3">100</text>
<line x1="312.3" y1="560.3" x2="313.75" y2="560.3" stroke="#8a8a8a" stroke-width="0.8" />
<text transform="translate(309.9,563.3)" font-size="8.4" text-anchor="end" fill="#262626" stroke="#262626" stroke-width="0.3">150</text>
<line x1="312.3" y1="536.2" x2="313.75" y2="536.2" stroke="#8a8a8a" stroke-width="0.8" />
<text transform="translate(309.9,539.2)" font-size="8.4" text-anchor="end" fill="#262626" stroke="#262626" stroke-width="0.3">200</text>
<line x1="312.3" y1="512.1" x2="313.75" y2="512.1" stroke="#8a8a8a" stroke-width="0.8" />
<text transform="translate(309.9,515.1)" font-size="8.4" text-anchor="end" fill="#262626" stroke="#262626" stroke-width="0.3">250</text>
<line x1="313.75" y1="632.4" x2="495" y2="632.4" stroke="#8a8a8a" stroke-width="0.8" />
<line x1="314.3" y1="632.4" x2="314.3" y2="633.8" stroke="#8a8a8a" stroke-width="0.8" />
<text transform="translate(314.3,643.3) scale(0.950,1)" font-size="8.2" text-anchor="middle" fill="#262626" stroke="#262626" stroke-width="0.3">10</text>
<line x1="340.1" y1="632.4" x2="340.1" y2="633.8" stroke="#8a8a8a" stroke-width="0.8" />
<text transform="translate(340.1,643.3) scale(0.950,1)" font-size="8.2" text-anchor="middle" fill="#262626" stroke="#262626" stroke-width="0.3">20</text>
<line x1="365.9" y1="632.4" x2="365.9" y2="633.8" stroke="#8a8a8a" stroke-width="0.8" />
<text transform="translate(365.9,643.3) scale(0.950,1)" font-size="8.2" text-anchor="middle" fill="#262626" stroke="#262626" stroke-width="0.3">30</text>
<line x1="391.7" y1="632.4" x2="391.7" y2="633.8" stroke="#8a8a8a" stroke-width="0.8" />
<text transform="translate(391.7,643.3) scale(0.950,1)" font-size="8.2" text-anchor="middle" fill="#262626" stroke="#262626" stroke-width="0.3">40</text>
<line x1="417.5" y1="632.4" x2="417.5" y2="633.8" stroke="#8a8a8a" stroke-width="0.8" />
<text transform="translate(417.5,643.3) scale(0.950,1)" font-size="8.2" text-anchor="middle" fill="#262626" stroke="#262626" stroke-width="0.3">50</text>
<line x1="443.3" y1="632.4" x2="443.3" y2="633.8" stroke="#8a8a8a" stroke-width="0.8" />
<text transform="translate(443.3,643.3) scale(0.950,1)" font-size="8.2" text-anchor="middle" fill="#262626" stroke="#262626" stroke-width="0.3">60</text>
<line x1="469.1" y1="632.4" x2="469.1" y2="633.8" stroke="#8a8a8a" stroke-width="0.8" />
<text transform="translate(469.1,643.3) scale(0.950,1)" font-size="8.2" text-anchor="middle" fill="#262626" stroke="#262626" stroke-width="0.3">70</text>
<line x1="494.9" y1="632.4" x2="494.9" y2="633.8" stroke="#8a8a8a" stroke-width="0.8" />
<text transform="translate(494.9,643.3) scale(0.950,1)" font-size="8.2" text-anchor="middle" fill="#262626" stroke="#262626" stroke-width="0.3">80</text>
<text transform="translate(353.5,654.4) scale(0.996,1)" font-size="8.3" text-anchor="start" fill="#262626" stroke="#262626" stroke-width="0.3">Days after tumor inoculation</text>
<text transform="translate(290,627.4) rotate(-90) scale(1.009,1)" font-size="8.3" text-anchor="start" fill="#262626" stroke="#262626" stroke-width="0.3">Tumor area (mm<tspan dy="-3.15" font-size="5.64">2</tspan><tspan dy="3.15">, mean ± SD)</tspan></text>
<line x1="316.3" y1="606.6" x2="316.3" y2="612.6" stroke="#a8d8ef" stroke-width="0.7" />
<line x1="314.6" y1="606.6" x2="318" y2="606.6" stroke="#a8d8ef" stroke-width="0.7" />
<line x1="314.6" y1="612.6" x2="318" y2="612.6" stroke="#a8d8ef" stroke-width="0.7" />
<line x1="324.4" y1="604.85" x2="324.4" y2="611.95" stroke="#a8d8ef" stroke-width="0.7" />
<line x1="322.7" y1="604.85" x2="326.1" y2="604.85" stroke="#a8d8ef" stroke-width="0.7" />
<line x1="322.7" y1="611.95" x2="326.1" y2="611.95" stroke="#a8d8ef" stroke-width="0.7" />
<line x1="334.3" y1="605.5" x2="334.3" y2="613.7" stroke="#a8d8ef" stroke-width="0.7" />
<line x1="332.6" y1="605.5" x2="336" y2="605.5" stroke="#a8d8ef" stroke-width="0.7" />
<line x1="332.6" y1="613.7" x2="336" y2="613.7" stroke="#a8d8ef" stroke-width="0.7" />
<line x1="340.2" y1="605.55" x2="340.2" y2="614.85" stroke="#a8d8ef" stroke-width="0.7" />
<line x1="338.5" y1="605.55" x2="341.9" y2="605.55" stroke="#a8d8ef" stroke-width="0.7" />
<line x1="338.5" y1="614.85" x2="341.9" y2="614.85" stroke="#a8d8ef" stroke-width="0.7" />
<line x1="344.6" y1="607.3" x2="344.6" y2="617.7" stroke="#a8d8ef" stroke-width="0.7" />
<line x1="342.9" y1="607.3" x2="346.3" y2="607.3" stroke="#a8d8ef" stroke-width="0.7" />
<line x1="342.9" y1="617.7" x2="346.3" y2="617.7" stroke="#a8d8ef" stroke-width="0.7" />
<line x1="355.6" y1="608.25" x2="355.6" y2="619.75" stroke="#a8d8ef" stroke-width="0.7" />
<line x1="353.9" y1="608.25" x2="357.3" y2="608.25" stroke="#a8d8ef" stroke-width="0.7" />
<line x1="353.9" y1="619.75" x2="357.3" y2="619.75" stroke="#a8d8ef" stroke-width="0.7" />
<line x1="363.3" y1="603.3" x2="363.3" y2="615.9" stroke="#a8d8ef" stroke-width="0.7" />
<line x1="361.6" y1="603.3" x2="365" y2="603.3" stroke="#a8d8ef" stroke-width="0.7" />
<line x1="361.6" y1="615.9" x2="365" y2="615.9" stroke="#a8d8ef" stroke-width="0.7" />
<line x1="370.4" y1="603.15" x2="370.4" y2="616.85" stroke="#a8d8ef" stroke-width="0.7" />
<line x1="368.7" y1="603.15" x2="372.1" y2="603.15" stroke="#a8d8ef" stroke-width="0.7" />
<line x1="368.7" y1="616.85" x2="372.1" y2="616.85" stroke="#a8d8ef" stroke-width="0.7" />
<line x1="376.2" y1="602.6" x2="376.2" y2="617.4" stroke="#a8d8ef" stroke-width="0.7" />
<line x1="374.5" y1="602.6" x2="377.9" y2="602.6" stroke="#a8d8ef" stroke-width="0.7" />
<line x1="374.5" y1="617.4" x2="377.9" y2="617.4" stroke="#a8d8ef" stroke-width="0.7" />
<line x1="381.2" y1="603.25" x2="381.2" y2="619.15" stroke="#a8d8ef" stroke-width="0.7" />
<line x1="379.5" y1="603.25" x2="382.9" y2="603.25" stroke="#a8d8ef" stroke-width="0.7" />
<line x1="379.5" y1="619.15" x2="382.9" y2="619.15" stroke="#a8d8ef" stroke-width="0.7" />
<line x1="388.9" y1="605" x2="388.9" y2="622" stroke="#a8d8ef" stroke-width="0.7" />
<line x1="387.2" y1="605" x2="390.6" y2="605" stroke="#a8d8ef" stroke-width="0.7" />
<line x1="387.2" y1="622" x2="390.6" y2="622" stroke="#a8d8ef" stroke-width="0.7" />
<line x1="396.9" y1="604.45" x2="396.9" y2="622.55" stroke="#a8d8ef" stroke-width="0.7" />
<line x1="395.2" y1="604.45" x2="398.6" y2="604.45" stroke="#a8d8ef" stroke-width="0.7" />
<line x1="395.2" y1="622.55" x2="398.6" y2="622.55" stroke="#a8d8ef" stroke-width="0.7" />
<line x1="407.3" y1="601.6" x2="407.3" y2="620.8" stroke="#a8d8ef" stroke-width="0.7" />
<line x1="405.6" y1="601.6" x2="409" y2="601.6" stroke="#a8d8ef" stroke-width="0.7" />
<line x1="405.6" y1="620.8" x2="409" y2="620.8" stroke="#a8d8ef" stroke-width="0.7" />
<line x1="415" y1="601.05" x2="415" y2="621.35" stroke="#a8d8ef" stroke-width="0.7" />
<line x1="413.3" y1="601.05" x2="416.7" y2="601.05" stroke="#a8d8ef" stroke-width="0.7" />
<line x1="413.3" y1="621.35" x2="416.7" y2="621.35" stroke="#a8d8ef" stroke-width="0.7" />
<line x1="425.8" y1="597.5" x2="425.8" y2="618.9" stroke="#a8d8ef" stroke-width="0.7" />
<line x1="424.1" y1="597.5" x2="427.5" y2="597.5" stroke="#a8d8ef" stroke-width="0.7" />
<line x1="424.1" y1="618.9" x2="427.5" y2="618.9" stroke="#a8d8ef" stroke-width="0.7" />
<line x1="433.4" y1="595.35" x2="433.4" y2="617.85" stroke="#a8d8ef" stroke-width="0.7" />
<line x1="431.7" y1="595.35" x2="435.1" y2="595.35" stroke="#a8d8ef" stroke-width="0.7" />
<line x1="431.7" y1="617.85" x2="435.1" y2="617.85" stroke="#a8d8ef" stroke-width="0.7" />
<line x1="446" y1="591.1" x2="446" y2="614.7" stroke="#a8d8ef" stroke-width="0.7" />
<line x1="444.3" y1="591.1" x2="447.7" y2="591.1" stroke="#a8d8ef" stroke-width="0.7" />
<line x1="444.3" y1="614.7" x2="447.7" y2="614.7" stroke="#a8d8ef" stroke-width="0.7" />
<line x1="453.7" y1="589.55" x2="453.7" y2="614.25" stroke="#a8d8ef" stroke-width="0.7" />
<line x1="452" y1="589.55" x2="455.4" y2="589.55" stroke="#a8d8ef" stroke-width="0.7" />
<line x1="452" y1="614.25" x2="455.4" y2="614.25" stroke="#a8d8ef" stroke-width="0.7" />
<line x1="464.6" y1="586.7" x2="464.6" y2="612.5" stroke="#a8d8ef" stroke-width="0.7" />
<line x1="462.9" y1="586.7" x2="466.3" y2="586.7" stroke="#a8d8ef" stroke-width="0.7" />
<line x1="462.9" y1="612.5" x2="466.3" y2="612.5" stroke="#a8d8ef" stroke-width="0.7" />
<line x1="471.9" y1="584.05" x2="471.9" y2="610.95" stroke="#a8d8ef" stroke-width="0.7" />
<line x1="470.2" y1="584.05" x2="473.6" y2="584.05" stroke="#a8d8ef" stroke-width="0.7" />
<line x1="470.2" y1="610.95" x2="473.6" y2="610.95" stroke="#a8d8ef" stroke-width="0.7" />
<line x1="480" y1="578.7" x2="480" y2="606.7" stroke="#a8d8ef" stroke-width="0.7" />
<line x1="478.3" y1="578.7" x2="481.7" y2="578.7" stroke="#a8d8ef" stroke-width="0.7" />
<line x1="478.3" y1="606.7" x2="481.7" y2="606.7" stroke="#a8d8ef" stroke-width="0.7" />
<line x1="316.3" y1="606.6" x2="316.3" y2="612.6" stroke="#a8d8ef" stroke-width="0.7" />
<line x1="314.6" y1="606.6" x2="318" y2="606.6" stroke="#a8d8ef" stroke-width="0.7" />
<line x1="314.6" y1="612.6" x2="318" y2="612.6" stroke="#a8d8ef" stroke-width="0.7" />
<line x1="324.4" y1="603.55" x2="324.4" y2="611.05" stroke="#a8d8ef" stroke-width="0.7" />
<line x1="322.7" y1="603.55" x2="326.1" y2="603.55" stroke="#a8d8ef" stroke-width="0.7" />
<line x1="322.7" y1="611.05" x2="326.1" y2="611.05" stroke="#a8d8ef" stroke-width="0.7" />
<line x1="334.3" y1="602.2" x2="334.3" y2="611.2" stroke="#a8d8ef" stroke-width="0.7" />
<line x1="332.6" y1="602.2" x2="336" y2="602.2" stroke="#a8d8ef" stroke-width="0.7" />
<line x1="332.6" y1="611.2" x2="336" y2="611.2" stroke="#a8d8ef" stroke-width="0.7" />
<line x1="340.2" y1="601.45" x2="340.2" y2="611.95" stroke="#a8d8ef" stroke-width="0.7" />
<line x1="338.5" y1="601.45" x2="341.9" y2="601.45" stroke="#a8d8ef" stroke-width="0.7" />
<line x1="338.5" y1="611.95" x2="341.9" y2="611.95" stroke="#a8d8ef" stroke-width="0.7" />
<line x1="344.6" y1="598.4" x2="344.6" y2="610.4" stroke="#a8d8ef" stroke-width="0.7" />
<line x1="342.9" y1="598.4" x2="346.3" y2="598.4" stroke="#a8d8ef" stroke-width="0.7" />
<line x1="342.9" y1="610.4" x2="346.3" y2="610.4" stroke="#a8d8ef" stroke-width="0.7" />
<line x1="355.6" y1="593.85" x2="355.6" y2="607.35" stroke="#a8d8ef" stroke-width="0.7" />
<line x1="353.9" y1="593.85" x2="357.3" y2="593.85" stroke="#a8d8ef" stroke-width="0.7" />
<line x1="353.9" y1="607.35" x2="357.3" y2="607.35" stroke="#a8d8ef" stroke-width="0.7" />
<line x1="363.3" y1="589.9" x2="363.3" y2="604.9" stroke="#a8d8ef" stroke-width="0.7" />
<line x1="361.6" y1="589.9" x2="365" y2="589.9" stroke="#a8d8ef" stroke-width="0.7" />
<line x1="361.6" y1="604.9" x2="365" y2="604.9" stroke="#a8d8ef" stroke-width="0.7" />
<line x1="370.4" y1="587.95" x2="370.4" y2="604.45" stroke="#a8d8ef" stroke-width="0.7" />
<line x1="368.7" y1="587.95" x2="372.1" y2="587.95" stroke="#a8d8ef" stroke-width="0.7" />
<line x1="368.7" y1="604.45" x2="372.1" y2="604.45" stroke="#a8d8ef" stroke-width="0.7" />
<line x1="376.2" y1="584.9" x2="376.2" y2="602.9" stroke="#a8d8ef" stroke-width="0.7" />
<line x1="374.5" y1="584.9" x2="377.9" y2="584.9" stroke="#a8d8ef" stroke-width="0.7" />
<line x1="374.5" y1="602.9" x2="377.9" y2="602.9" stroke="#a8d8ef" stroke-width="0.7" />
<line x1="381.2" y1="582.95" x2="381.2" y2="602.45" stroke="#a8d8ef" stroke-width="0.7" />
<line x1="379.5" y1="582.95" x2="382.9" y2="582.95" stroke="#a8d8ef" stroke-width="0.7" />
<line x1="379.5" y1="602.45" x2="382.9" y2="602.45" stroke="#a8d8ef" stroke-width="0.7" />
<line x1="388.9" y1="582.2" x2="388.9" y2="603.2" stroke="#a8d8ef" stroke-width="0.7" />
<line x1="387.2" y1="582.2" x2="390.6" y2="582.2" stroke="#a8d8ef" stroke-width="0.7" />
<line x1="387.2" y1="603.2" x2="390.6" y2="603.2" stroke="#a8d8ef" stroke-width="0.7" />
<line x1="396.9" y1="579.15" x2="396.9" y2="601.65" stroke="#a8d8ef" stroke-width="0.7" />
<line x1="395.2" y1="579.15" x2="398.6" y2="579.15" stroke="#a8d8ef" stroke-width="0.7" />
<line x1="395.2" y1="601.65" x2="398.6" y2="601.65" stroke="#a8d8ef" stroke-width="0.7" />
<line x1="407.3" y1="575.4" x2="407.3" y2="599.4" stroke="#a8d8ef" stroke-width="0.7" />
<line x1="405.6" y1="575.4" x2="409" y2="575.4" stroke="#a8d8ef" stroke-width="0.7" />
<line x1="405.6" y1="599.4" x2="409" y2="599.4" stroke="#a8d8ef" stroke-width="0.7" />
<line x1="415" y1="572.65" x2="415" y2="598.15" stroke="#a8d8ef" stroke-width="0.7" />
<line x1="413.3" y1="572.65" x2="416.7" y2="572.65" stroke="#a8d8ef" stroke-width="0.7" />
<line x1="413.3" y1="598.15" x2="416.7" y2="598.15" stroke="#a8d8ef" stroke-width="0.7" />
<line x1="425.8" y1="563.8" x2="425.8" y2="590.8" stroke="#a8d8ef" stroke-width="0.7" />
<line x1="424.1" y1="563.8" x2="427.5" y2="563.8" stroke="#a8d8ef" stroke-width="0.7" />
<line x1="424.1" y1="590.8" x2="427.5" y2="590.8" stroke="#a8d8ef" stroke-width="0.7" />
<line x1="433.4" y1="559.35" x2="433.4" y2="587.85" stroke="#a8d8ef" stroke-width="0.7" />
<line x1="431.7" y1="559.35" x2="435.1" y2="559.35" stroke="#a8d8ef" stroke-width="0.7" />
<line x1="431.7" y1="587.85" x2="435.1" y2="587.85" stroke="#a8d8ef" stroke-width="0.7" />
<line x1="446" y1="552.7" x2="446" y2="582.7" stroke="#a8d8ef" stroke-width="0.7" />
<line x1="444.3" y1="552.7" x2="447.7" y2="552.7" stroke="#a8d8ef" stroke-width="0.7" />
<line x1="444.3" y1="582.7" x2="447.7" y2="582.7" stroke="#a8d8ef" stroke-width="0.7" />
<line x1="453.7" y1="550.55" x2="453.7" y2="582.05" stroke="#a8d8ef" stroke-width="0.7" />
<line x1="452" y1="550.55" x2="455.4" y2="550.55" stroke="#a8d8ef" stroke-width="0.7" />
<line x1="452" y1="582.05" x2="455.4" y2="582.05" stroke="#a8d8ef" stroke-width="0.7" />
<line x1="464.6" y1="545" x2="464.6" y2="578" stroke="#a8d8ef" stroke-width="0.7" />
<line x1="462.9" y1="545" x2="466.3" y2="545" stroke="#a8d8ef" stroke-width="0.7" />
<line x1="462.9" y1="578" x2="466.3" y2="578" stroke="#a8d8ef" stroke-width="0.7" />
<line x1="471.9" y1="539.45" x2="471.9" y2="573.95" stroke="#a8d8ef" stroke-width="0.7" />
<line x1="470.2" y1="539.45" x2="473.6" y2="539.45" stroke="#a8d8ef" stroke-width="0.7" />
<line x1="470.2" y1="573.95" x2="473.6" y2="573.95" stroke="#a8d8ef" stroke-width="0.7" />
<line x1="480" y1="534.9" x2="480" y2="570.9" stroke="#a8d8ef" stroke-width="0.7" />
<line x1="478.3" y1="534.9" x2="481.7" y2="534.9" stroke="#a8d8ef" stroke-width="0.7" />
<line x1="478.3" y1="570.9" x2="481.7" y2="570.9" stroke="#a8d8ef" stroke-width="0.7" />
<line x1="316.3" y1="606.6" x2="316.3" y2="612.6" stroke="#f5cf95" stroke-width="0.7" />
<line x1="314.6" y1="606.6" x2="318" y2="606.6" stroke="#f5cf95" stroke-width="0.7" />
<line x1="314.6" y1="612.6" x2="318" y2="612.6" stroke="#f5cf95" stroke-width="0.7" />
<line x1="324.4" y1="602.3" x2="324.4" y2="609.7" stroke="#f5cf95" stroke-width="0.7" />
<line x1="322.7" y1="602.3" x2="326.1" y2="602.3" stroke="#f5cf95" stroke-width="0.7" />
<line x1="322.7" y1="609.7" x2="326.1" y2="609.7" stroke="#f5cf95" stroke-width="0.7" />
<line x1="334.3" y1="598.3" x2="334.3" y2="607.1" stroke="#f5cf95" stroke-width="0.7" />
<line x1="332.6" y1="598.3" x2="336" y2="598.3" stroke="#f5cf95" stroke-width="0.7" />
<line x1="332.6" y1="607.1" x2="336" y2="607.1" stroke="#f5cf95" stroke-width="0.7" />
<line x1="340.2" y1="593.5" x2="340.2" y2="603.7" stroke="#f5cf95" stroke-width="0.7" />
<line x1="338.5" y1="593.5" x2="341.9" y2="593.5" stroke="#f5cf95" stroke-width="0.7" />
<line x1="338.5" y1="603.7" x2="341.9" y2="603.7" stroke="#f5cf95" stroke-width="0.7" />
<line x1="344.6" y1="591.7" x2="344.6" y2="603.3" stroke="#f5cf95" stroke-width="0.7" />
<line x1="342.9" y1="591.7" x2="346.3" y2="591.7" stroke="#f5cf95" stroke-width="0.7" />
<line x1="342.9" y1="603.3" x2="346.3" y2="603.3" stroke="#f5cf95" stroke-width="0.7" />
<line x1="355.6" y1="586.7" x2="355.6" y2="599.7" stroke="#f5cf95" stroke-width="0.7" />
<line x1="353.9" y1="586.7" x2="357.3" y2="586.7" stroke="#f5cf95" stroke-width="0.7" />
<line x1="353.9" y1="599.7" x2="357.3" y2="599.7" stroke="#f5cf95" stroke-width="0.7" />
<line x1="363.3" y1="580.2" x2="363.3" y2="594.6" stroke="#f5cf95" stroke-width="0.7" />
<line x1="361.6" y1="580.2" x2="365" y2="580.2" stroke="#f5cf95" stroke-width="0.7" />
<line x1="361.6" y1="594.6" x2="365" y2="594.6" stroke="#f5cf95" stroke-width="0.7" />
<line x1="370.4" y1="577.9" x2="370.4" y2="593.7" stroke="#f5cf95" stroke-width="0.7" />
<line x1="368.7" y1="577.9" x2="372.1" y2="577.9" stroke="#f5cf95" stroke-width="0.7" />
<line x1="368.7" y1="593.7" x2="372.1" y2="593.7" stroke="#f5cf95" stroke-width="0.7" />
<line x1="376.2" y1="573.8" x2="376.2" y2="591" stroke="#f5cf95" stroke-width="0.7" />
<line x1="374.5" y1="573.8" x2="377.9" y2="573.8" stroke="#f5cf95" stroke-width="0.7" />
<line x1="374.5" y1="591" x2="377.9" y2="591" stroke="#f5cf95" stroke-width="0.7" />
<line x1="381.2" y1="571.2" x2="381.2" y2="589.8" stroke="#f5cf95" stroke-width="0.7" />
<line x1="379.5" y1="571.2" x2="382.9" y2="571.2" stroke="#f5cf95" stroke-width="0.7" />
<line x1="379.5" y1="589.8" x2="382.9" y2="589.8" stroke="#f5cf95" stroke-width="0.7" />
<line x1="388.9" y1="567.3" x2="388.9" y2="587.3" stroke="#f5cf95" stroke-width="0.7" />
<line x1="387.2" y1="567.3" x2="390.6" y2="567.3" stroke="#f5cf95" stroke-width="0.7" />
<line x1="387.2" y1="587.3" x2="390.6" y2="587.3" stroke="#f5cf95" stroke-width="0.7" />
<line x1="396.9" y1="565.4" x2="396.9" y2="586.8" stroke="#f5cf95" stroke-width="0.7" />
<line x1="395.2" y1="565.4" x2="398.6" y2="565.4" stroke="#f5cf95" stroke-width="0.7" />
<line x1="395.2" y1="586.8" x2="398.6" y2="586.8" stroke="#f5cf95" stroke-width="0.7" />
<line x1="407.3" y1="558.9" x2="407.3" y2="581.7" stroke="#f5cf95" stroke-width="0.7" />
<line x1="405.6" y1="558.9" x2="409" y2="558.9" stroke="#f5cf95" stroke-width="0.7" />
<line x1="405.6" y1="581.7" x2="409" y2="581.7" stroke="#f5cf95" stroke-width="0.7" />
<line x1="425.8" y1="547.6" x2="425.8" y2="571.8" stroke="#f5cf95" stroke-width="0.7" />
<line x1="424.1" y1="547.6" x2="427.5" y2="547.6" stroke="#f5cf95" stroke-width="0.7" />
<line x1="424.1" y1="571.8" x2="427.5" y2="571.8" stroke="#f5cf95" stroke-width="0.7" />
<line x1="433.4" y1="539.1" x2="433.4" y2="564.7" stroke="#f5cf95" stroke-width="0.7" />
<line x1="431.7" y1="539.1" x2="435.1" y2="539.1" stroke="#f5cf95" stroke-width="0.7" />
<line x1="431.7" y1="564.7" x2="435.1" y2="564.7" stroke="#f5cf95" stroke-width="0.7" />
<line x1="445.9" y1="522.2" x2="445.9" y2="549.2" stroke="#f5cf95" stroke-width="0.7" />
<line x1="444.2" y1="522.2" x2="447.6" y2="522.2" stroke="#f5cf95" stroke-width="0.7" />
<line x1="444.2" y1="549.2" x2="447.6" y2="549.2" stroke="#f5cf95" stroke-width="0.7" />
<line x1="316.3" y1="606.6" x2="316.3" y2="612.6" stroke="#c5df9f" stroke-width="0.7" />
<line x1="314.6" y1="606.6" x2="318" y2="606.6" stroke="#c5df9f" stroke-width="0.7" />
<line x1="314.6" y1="612.6" x2="318" y2="612.6" stroke="#c5df9f" stroke-width="0.7" />
<line x1="324.4" y1="601.1" x2="324.4" y2="608.9" stroke="#c5df9f" stroke-width="0.7" />
<line x1="322.7" y1="601.1" x2="326.1" y2="601.1" stroke="#c5df9f" stroke-width="0.7" />
<line x1="322.7" y1="608.9" x2="326.1" y2="608.9" stroke="#c5df9f" stroke-width="0.7" />
<line x1="334.3" y1="595" x2="334.3" y2="604.6" stroke="#c5df9f" stroke-width="0.7" />
<line x1="332.6" y1="595" x2="336" y2="595" stroke="#c5df9f" stroke-width="0.7" />
<line x1="332.6" y1="604.6" x2="336" y2="604.6" stroke="#c5df9f" stroke-width="0.7" />
<line x1="340.2" y1="588.3" x2="340.2" y2="599.7" stroke="#c5df9f" stroke-width="0.7" />
<line x1="338.5" y1="588.3" x2="341.9" y2="588.3" stroke="#c5df9f" stroke-width="0.7" />
<line x1="338.5" y1="599.7" x2="341.9" y2="599.7" stroke="#c5df9f" stroke-width="0.7" />
<line x1="344.6" y1="584.4" x2="344.6" y2="597.6" stroke="#c5df9f" stroke-width="0.7" />
<line x1="342.9" y1="584.4" x2="346.3" y2="584.4" stroke="#c5df9f" stroke-width="0.7" />
<line x1="342.9" y1="597.6" x2="346.3" y2="597.6" stroke="#c5df9f" stroke-width="0.7" />
<line x1="355.6" y1="580.2" x2="355.6" y2="595.2" stroke="#c5df9f" stroke-width="0.7" />
<line x1="353.9" y1="580.2" x2="357.3" y2="580.2" stroke="#c5df9f" stroke-width="0.7" />
<line x1="353.9" y1="595.2" x2="357.3" y2="595.2" stroke="#c5df9f" stroke-width="0.7" />
<line x1="363.3" y1="571.8" x2="363.3" y2="588.6" stroke="#c5df9f" stroke-width="0.7" />
<line x1="361.6" y1="571.8" x2="365" y2="571.8" stroke="#c5df9f" stroke-width="0.7" />
<line x1="361.6" y1="588.6" x2="365" y2="588.6" stroke="#c5df9f" stroke-width="0.7" />
<line x1="370.4" y1="566.1" x2="370.4" y2="584.7" stroke="#c5df9f" stroke-width="0.7" />
<line x1="368.7" y1="566.1" x2="372.1" y2="566.1" stroke="#c5df9f" stroke-width="0.7" />
<line x1="368.7" y1="584.7" x2="372.1" y2="584.7" stroke="#c5df9f" stroke-width="0.7" />
<line x1="376.2" y1="559.4" x2="376.2" y2="579.8" stroke="#c5df9f" stroke-width="0.7" />
<line x1="374.5" y1="559.4" x2="377.9" y2="559.4" stroke="#c5df9f" stroke-width="0.7" />
<line x1="374.5" y1="579.8" x2="377.9" y2="579.8" stroke="#c5df9f" stroke-width="0.7" />
<line x1="381.2" y1="558.5" x2="381.2" y2="580.7" stroke="#c5df9f" stroke-width="0.7" />
<line x1="379.5" y1="558.5" x2="382.9" y2="558.5" stroke="#c5df9f" stroke-width="0.7" />
<line x1="379.5" y1="580.7" x2="382.9" y2="580.7" stroke="#c5df9f" stroke-width="0.7" />
<line x1="388.9" y1="556.5" x2="388.9" y2="580.5" stroke="#c5df9f" stroke-width="0.7" />
<line x1="387.2" y1="556.5" x2="390.6" y2="556.5" stroke="#c5df9f" stroke-width="0.7" />
<line x1="387.2" y1="580.5" x2="390.6" y2="580.5" stroke="#c5df9f" stroke-width="0.7" />
<line x1="396.9" y1="554.4" x2="396.9" y2="580.2" stroke="#c5df9f" stroke-width="0.7" />
<line x1="395.2" y1="554.4" x2="398.6" y2="554.4" stroke="#c5df9f" stroke-width="0.7" />
<line x1="395.2" y1="580.2" x2="398.6" y2="580.2" stroke="#c5df9f" stroke-width="0.7" />
<line x1="407.3" y1="548.5" x2="407.3" y2="576.1" stroke="#c5df9f" stroke-width="0.7" />
<line x1="405.6" y1="548.5" x2="409" y2="548.5" stroke="#c5df9f" stroke-width="0.7" />
<line x1="405.6" y1="576.1" x2="409" y2="576.1" stroke="#c5df9f" stroke-width="0.7" />
<line x1="415" y1="548" x2="415" y2="577.4" stroke="#c5df9f" stroke-width="0.7" />
<line x1="413.3" y1="548" x2="416.7" y2="548" stroke="#c5df9f" stroke-width="0.7" />
<line x1="413.3" y1="577.4" x2="416.7" y2="577.4" stroke="#c5df9f" stroke-width="0.7" />
<line x1="425.8" y1="537.9" x2="425.8" y2="569.1" stroke="#c5df9f" stroke-width="0.7" />
<line x1="424.1" y1="537.9" x2="427.5" y2="537.9" stroke="#c5df9f" stroke-width="0.7" />
<line x1="424.1" y1="569.1" x2="427.5" y2="569.1" stroke="#c5df9f" stroke-width="0.7" />
<line x1="433.4" y1="530.8" x2="433.4" y2="563.8" stroke="#c5df9f" stroke-width="0.7" />
<line x1="431.7" y1="530.8" x2="435.1" y2="530.8" stroke="#c5df9f" stroke-width="0.7" />
<line x1="431.7" y1="563.8" x2="435.1" y2="563.8" stroke="#c5df9f" stroke-width="0.7" />
<line x1="445.9" y1="522.9" x2="445.9" y2="557.7" stroke="#c5df9f" stroke-width="0.7" />
<line x1="444.2" y1="522.9" x2="447.6" y2="522.9" stroke="#c5df9f" stroke-width="0.7" />
<line x1="444.2" y1="557.7" x2="447.6" y2="557.7" stroke="#c5df9f" stroke-width="0.7" />
<line x1="316.3" y1="606.6" x2="316.3" y2="612.6" stroke="#d6e8b5" stroke-width="0.7" />
<line x1="314.6" y1="606.6" x2="318" y2="606.6" stroke="#d6e8b5" stroke-width="0.7" />
<line x1="314.6" y1="612.6" x2="318" y2="612.6" stroke="#d6e8b5" stroke-width="0.7" />
<line x1="324.4" y1="599.6" x2="324.4" y2="607.4" stroke="#d6e8b5" stroke-width="0.7" />
<line x1="322.7" y1="599.6" x2="326.1" y2="599.6" stroke="#d6e8b5" stroke-width="0.7" />
<line x1="322.7" y1="607.4" x2="326.1" y2="607.4" stroke="#d6e8b5" stroke-width="0.7" />
<line x1="334.3" y1="590.2" x2="334.3" y2="599.8" stroke="#d6e8b5" stroke-width="0.7" />
<line x1="332.6" y1="590.2" x2="336" y2="590.2" stroke="#d6e8b5" stroke-width="0.7" />
<line x1="332.6" y1="599.8" x2="336" y2="599.8" stroke="#d6e8b5" stroke-width="0.7" />
<line x1="340.2" y1="583.3" x2="340.2" y2="594.7" stroke="#d6e8b5" stroke-width="0.7" />
<line x1="338.5" y1="583.3" x2="341.9" y2="583.3" stroke="#d6e8b5" stroke-width="0.7" />
<line x1="338.5" y1="594.7" x2="341.9" y2="594.7" stroke="#d6e8b5" stroke-width="0.7" />
<line x1="344.6" y1="576.4" x2="344.6" y2="589.6" stroke="#d6e8b5" stroke-width="0.7" />
<line x1="342.9" y1="576.4" x2="346.3" y2="576.4" stroke="#d6e8b5" stroke-width="0.7" />
<line x1="342.9" y1="589.6" x2="346.3" y2="589.6" stroke="#d6e8b5" stroke-width="0.7" />
<line x1="355.6" y1="570.5" x2="355.6" y2="585.5" stroke="#d6e8b5" stroke-width="0.7" />
<line x1="353.9" y1="570.5" x2="357.3" y2="570.5" stroke="#d6e8b5" stroke-width="0.7" />
<line x1="353.9" y1="585.5" x2="357.3" y2="585.5" stroke="#d6e8b5" stroke-width="0.7" />
<line x1="363.3" y1="560.6" x2="363.3" y2="577.4" stroke="#d6e8b5" stroke-width="0.7" />
<line x1="361.6" y1="560.6" x2="365" y2="560.6" stroke="#d6e8b5" stroke-width="0.7" />
<line x1="361.6" y1="577.4" x2="365" y2="577.4" stroke="#d6e8b5" stroke-width="0.7" />
<line x1="370.9" y1="550.7" x2="370.9" y2="569.3" stroke="#d6e8b5" stroke-width="0.7" />
<line x1="369.2" y1="550.7" x2="372.6" y2="550.7" stroke="#d6e8b5" stroke-width="0.7" />
<line x1="369.2" y1="569.3" x2="372.6" y2="569.3" stroke="#d6e8b5" stroke-width="0.7" />
<line x1="376.2" y1="541.8" x2="376.2" y2="562.2" stroke="#d6e8b5" stroke-width="0.7" />
<line x1="374.5" y1="541.8" x2="377.9" y2="541.8" stroke="#d6e8b5" stroke-width="0.7" />
<line x1="374.5" y1="562.2" x2="377.9" y2="562.2" stroke="#d6e8b5" stroke-width="0.7" />
<line x1="381.3" y1="536.9" x2="381.3" y2="559.1" stroke="#d6e8b5" stroke-width="0.7" />
<line x1="379.6" y1="536.9" x2="383" y2="536.9" stroke="#d6e8b5" stroke-width="0.7" />
<line x1="379.6" y1="559.1" x2="383" y2="559.1" stroke="#d6e8b5" stroke-width="0.7" />
<line x1="389.6" y1="533" x2="389.6" y2="557" stroke="#d6e8b5" stroke-width="0.7" />
<line x1="387.9" y1="533" x2="391.3" y2="533" stroke="#d6e8b5" stroke-width="0.7" />
<line x1="387.9" y1="557" x2="391.3" y2="557" stroke="#d6e8b5" stroke-width="0.7" />
<line x1="316.3" y1="606.6" x2="316.3" y2="612.6" stroke="#999" stroke-width="0.7" />
<line x1="314.6" y1="606.6" x2="318" y2="606.6" stroke="#999" stroke-width="0.7" />
<line x1="314.6" y1="612.6" x2="318" y2="612.6" stroke="#999" stroke-width="0.7" />
<line x1="324.4" y1="598.1" x2="324.4" y2="605.9" stroke="#999" stroke-width="0.7" />
<line x1="322.7" y1="598.1" x2="326.1" y2="598.1" stroke="#999" stroke-width="0.7" />
<line x1="322.7" y1="605.9" x2="326.1" y2="605.9" stroke="#999" stroke-width="0.7" />
<line x1="334.3" y1="585" x2="334.3" y2="594.6" stroke="#999" stroke-width="0.7" />
<line x1="332.6" y1="585" x2="336" y2="585" stroke="#999" stroke-width="0.7" />
<line x1="332.6" y1="594.6" x2="336" y2="594.6" stroke="#999" stroke-width="0.7" />
<line x1="340.2" y1="578.9" x2="340.2" y2="590.3" stroke="#999" stroke-width="0.7" />
<line x1="338.5" y1="578.9" x2="341.9" y2="578.9" stroke="#999" stroke-width="0.7" />
<line x1="338.5" y1="590.3" x2="341.9" y2="590.3" stroke="#999" stroke-width="0.7" />
<line x1="344.6" y1="578" x2="344.6" y2="591.2" stroke="#999" stroke-width="0.7" />
<line x1="342.9" y1="578" x2="346.3" y2="578" stroke="#999" stroke-width="0.7" />
<line x1="342.9" y1="591.2" x2="346.3" y2="591.2" stroke="#999" stroke-width="0.7" />
<line x1="355.6" y1="566.3" x2="355.6" y2="581.3" stroke="#999" stroke-width="0.7" />
<line x1="353.9" y1="566.3" x2="357.3" y2="566.3" stroke="#999" stroke-width="0.7" />
<line x1="353.9" y1="581.3" x2="357.3" y2="581.3" stroke="#999" stroke-width="0.7" />
<line x1="363.3" y1="556" x2="363.3" y2="572.8" stroke="#999" stroke-width="0.7" />
<line x1="361.6" y1="556" x2="365" y2="556" stroke="#999" stroke-width="0.7" />
<line x1="361.6" y1="572.8" x2="365" y2="572.8" stroke="#999" stroke-width="0.7" />
<line x1="370.9" y1="544.7" x2="370.9" y2="563.3" stroke="#999" stroke-width="0.7" />
<line x1="369.2" y1="544.7" x2="372.6" y2="544.7" stroke="#999" stroke-width="0.7" />
<line x1="369.2" y1="563.3" x2="372.6" y2="563.3" stroke="#999" stroke-width="0.7" />
<line x1="376.2" y1="538.7" x2="376.2" y2="559.1" stroke="#999" stroke-width="0.7" />
<line x1="374.5" y1="538.7" x2="377.9" y2="538.7" stroke="#999" stroke-width="0.7" />
<line x1="374.5" y1="559.1" x2="377.9" y2="559.1" stroke="#999" stroke-width="0.7" />
<line x1="381.3" y1="530.4" x2="381.3" y2="552.6" stroke="#999" stroke-width="0.7" />
<line x1="379.6" y1="530.4" x2="383" y2="530.4" stroke="#999" stroke-width="0.7" />
<line x1="379.6" y1="552.6" x2="383" y2="552.6" stroke="#999" stroke-width="0.7" />
<line x1="389.6" y1="523" x2="389.6" y2="547" stroke="#999" stroke-width="0.7" />
<line x1="387.9" y1="523" x2="391.3" y2="523" stroke="#999" stroke-width="0.7" />
<line x1="387.9" y1="547" x2="391.3" y2="547" stroke="#999" stroke-width="0.7" />
<polyline points="316.3,609.6 324.4,606 334.3,602.7 340.2,598.6 344.6,597.5 355.6,593.2 363.3,587.4 370.4,585.8 376.2,582.4 381.2,580.5 388.9,577.3 396.9,576.1 407.3,570.3 425.8,559.7 433.4,551.9 445.9,535.7" fill="none" stroke="#f7d6a8" stroke-width="0.7" stroke-linejoin="round" />
<polyline points="316.3,609.6 324.4,608.4 334.3,609.6 340.2,610.2 344.6,612.5 355.6,614 363.3,609.6 370.4,610 376.2,610 381.2,611.2 388.9,613.5 396.9,613.5 407.3,611.2 415,611.2 425.8,608.2 433.4,606.6 446,602.9 453.7,601.9 464.6,599.6 471.9,597.5 480,592.7" fill="none" stroke="#5ab3de" stroke-width="1" stroke-linejoin="round" />
<polyline points="316.3,609.6 324.4,607.3 334.3,606.7 340.2,606.7 344.6,604.4 355.6,600.6 363.3,597.4 370.4,596.2 376.2,593.9 381.2,592.7 388.9,592.7 396.9,590.4 407.3,587.4 415,585.4 425.8,577.3 433.4,573.6 446,567.7 453.7,566.3 464.6,561.5 471.9,556.7 480,552.9" fill="none" stroke="#4aa6d6" stroke-width="1" stroke-dasharray="3,2" stroke-linejoin="round" />
<polyline points="316.3,609.6 324.4,605 334.3,599.8 340.2,594 344.6,591 355.6,587.7 363.3,580.2 370.4,575.4 376.2,569.6 381.2,569.6 388.9,568.5 396.9,567.3 407.3,562.3 415,562.7 425.8,553.5 433.4,547.3 445.9,540.3" fill="none" stroke="#78b943" stroke-width="1" stroke-linejoin="round" />
<polyline points="316.3,609.6 324.4,603.5 334.3,595 340.2,589 344.6,583 355.6,578 363.3,569 370.9,560 376.2,552 381.3,548 389.6,545" fill="none" stroke="#a6d06e" stroke-width="1" stroke-dasharray="3,2" stroke-linejoin="round" />
<polyline points="316.3,609.6 324.4,602 334.3,589.8 340.2,584.6 344.6,584.6 355.6,573.8 363.3,564.4 370.9,554 376.2,548.9 381.3,541.5 389.6,535" fill="none" stroke="#1a1a1a" stroke-width="1.1" stroke-linejoin="round" />
<circle cx="316.3" cy="609.6" r="1.85" fill="#e9a23b"/>
<circle cx="324.4" cy="606" r="1.85" fill="#e9a23b"/>
<circle cx="334.3" cy="602.7" r="1.85" fill="#e9a23b"/>
<circle cx="340.2" cy="598.6" r="1.85" fill="#e9a23b"/>
<circle cx="344.6" cy="597.5" r="1.85" fill="#e9a23b"/>
<circle cx="355.6" cy="593.2" r="1.85" fill="#e9a23b"/>
<circle cx="363.3" cy="587.4" r="1.85" fill="#e9a23b"/>
<circle cx="370.4" cy="585.8" r="1.85" fill="#e9a23b"/>
<circle cx="376.2" cy="582.4" r="1.85" fill="#e9a23b"/>
<circle cx="381.2" cy="580.5" r="1.85" fill="#e9a23b"/>
<circle cx="388.9" cy="577.3" r="1.85" fill="#e9a23b"/>
<circle cx="396.9" cy="576.1" r="1.85" fill="#e9a23b"/>
<circle cx="407.3" cy="570.3" r="1.85" fill="#e9a23b"/>
<circle cx="425.8" cy="559.7" r="1.85" fill="#e9a23b"/>
<circle cx="433.4" cy="551.9" r="1.85" fill="#e9a23b"/>
<circle cx="445.9" cy="535.7" r="1.85" fill="#e9a23b"/>
<circle cx="316.3" cy="609.6" r="2" fill="#fff" stroke="#49a7d8" stroke-width="1"/>
<circle cx="324.4" cy="608.4" r="2" fill="#fff" stroke="#49a7d8" stroke-width="1"/>
<circle cx="334.3" cy="609.6" r="2" fill="#fff" stroke="#49a7d8" stroke-width="1"/>
<circle cx="340.2" cy="610.2" r="2" fill="#fff" stroke="#49a7d8" stroke-width="1"/>
<circle cx="344.6" cy="612.5" r="2" fill="#fff" stroke="#49a7d8" stroke-width="1"/>
<circle cx="355.6" cy="614" r="2" fill="#fff" stroke="#49a7d8" stroke-width="1"/>
<circle cx="363.3" cy="609.6" r="2" fill="#fff" stroke="#49a7d8" stroke-width="1"/>
<circle cx="370.4" cy="610" r="2" fill="#fff" stroke="#49a7d8" stroke-width="1"/>
<circle cx="376.2" cy="610" r="2" fill="#fff" stroke="#49a7d8" stroke-width="1"/>
<circle cx="381.2" cy="611.2" r="2" fill="#fff" stroke="#49a7d8" stroke-width="1"/>
<circle cx="388.9" cy="613.5" r="2" fill="#fff" stroke="#49a7d8" stroke-width="1"/>
<circle cx="396.9" cy="613.5" r="2" fill="#fff" stroke="#49a7d8" stroke-width="1"/>
<circle cx="407.3" cy="611.2" r="2" fill="#fff" stroke="#49a7d8" stroke-width="1"/>
<circle cx="415" cy="611.2" r="2" fill="#fff" stroke="#49a7d8" stroke-width="1"/>
<circle cx="425.8" cy="608.2" r="2" fill="#fff" stroke="#49a7d8" stroke-width="1"/>
<circle cx="433.4" cy="606.6" r="2" fill="#fff" stroke="#49a7d8" stroke-width="1"/>
<circle cx="446" cy="602.9" r="2" fill="#fff" stroke="#49a7d8" stroke-width="1"/>
<circle cx="453.7" cy="601.9" r="2" fill="#fff" stroke="#49a7d8" stroke-width="1"/>
<circle cx="464.6" cy="599.6" r="2" fill="#fff" stroke="#49a7d8" stroke-width="1"/>
<circle cx="471.9" cy="597.5" r="2" fill="#fff" stroke="#49a7d8" stroke-width="1"/>
<circle cx="480" cy="592.7" r="2" fill="#fff" stroke="#49a7d8" stroke-width="1"/>
<rect x="314.35" y="607.65" width="3.9" height="3.9" rx="1.07" fill="#fff" stroke="#49a7d8" stroke-width="1.1"/>
<rect x="322.45" y="605.35" width="3.9" height="3.9" rx="1.07" fill="#fff" stroke="#49a7d8" stroke-width="1.1"/>
<rect x="332.35" y="604.75" width="3.9" height="3.9" rx="1.07" fill="#fff" stroke="#49a7d8" stroke-width="1.1"/>
<rect x="338.25" y="604.75" width="3.9" height="3.9" rx="1.07" fill="#fff" stroke="#49a7d8" stroke-width="1.1"/>
<rect x="342.65" y="602.45" width="3.9" height="3.9" rx="1.07" fill="#fff" stroke="#49a7d8" stroke-width="1.1"/>
<rect x="353.65" y="598.65" width="3.9" height="3.9" rx="1.07" fill="#fff" stroke="#49a7d8" stroke-width="1.1"/>
<rect x="361.35" y="595.45" width="3.9" height="3.9" rx="1.07" fill="#fff" stroke="#49a7d8" stroke-width="1.1"/>
<rect x="368.45" y="594.25" width="3.9" height="3.9" rx="1.07" fill="#fff" stroke="#49a7d8" stroke-width="1.1"/>
<rect x="374.25" y="591.95" width="3.9" height="3.9" rx="1.07" fill="#fff" stroke="#49a7d8" stroke-width="1.1"/>
<rect x="379.25" y="590.75" width="3.9" height="3.9" rx="1.07" fill="#fff" stroke="#49a7d8" stroke-width="1.1"/>
<rect x="386.95" y="590.75" width="3.9" height="3.9" rx="1.07" fill="#fff" stroke="#49a7d8" stroke-width="1.1"/>
<rect x="394.95" y="588.45" width="3.9" height="3.9" rx="1.07" fill="#fff" stroke="#49a7d8" stroke-width="1.1"/>
<rect x="405.35" y="585.45" width="3.9" height="3.9" rx="1.07" fill="#fff" stroke="#49a7d8" stroke-width="1.1"/>
<rect x="413.05" y="583.45" width="3.9" height="3.9" rx="1.07" fill="#fff" stroke="#49a7d8" stroke-width="1.1"/>
<rect x="423.85" y="575.35" width="3.9" height="3.9" rx="1.07" fill="#fff" stroke="#49a7d8" stroke-width="1.1"/>
<rect x="431.45" y="571.65" width="3.9" height="3.9" rx="1.07" fill="#fff" stroke="#49a7d8" stroke-width="1.1"/>
<rect x="444.05" y="565.75" width="3.9" height="3.9" rx="1.07" fill="#fff" stroke="#49a7d8" stroke-width="1.1"/>
<rect x="451.75" y="564.35" width="3.9" height="3.9" rx="1.07" fill="#fff" stroke="#49a7d8" stroke-width="1.1"/>
<rect x="462.65" y="559.55" width="3.9" height="3.9" rx="1.07" fill="#fff" stroke="#49a7d8" stroke-width="1.1"/>
<rect x="469.95" y="554.75" width="3.9" height="3.9" rx="1.07" fill="#fff" stroke="#49a7d8" stroke-width="1.1"/>
<rect x="478.05" y="550.95" width="3.9" height="3.9" rx="1.07" fill="#fff" stroke="#49a7d8" stroke-width="1.1"/>
<circle cx="316.3" cy="609.6" r="1.85" fill="#72a83c"/>
<circle cx="324.4" cy="605" r="1.85" fill="#72a83c"/>
<circle cx="334.3" cy="599.8" r="1.85" fill="#72a83c"/>
<circle cx="340.2" cy="594" r="1.85" fill="#72a83c"/>
<circle cx="344.6" cy="591" r="1.85" fill="#72a83c"/>
<circle cx="355.6" cy="587.7" r="1.85" fill="#72a83c"/>
<circle cx="363.3" cy="580.2" r="1.85" fill="#72a83c"/>
<circle cx="370.4" cy="575.4" r="1.85" fill="#72a83c"/>
<circle cx="376.2" cy="569.6" r="1.85" fill="#72a83c"/>
<circle cx="381.2" cy="569.6" r="1.85" fill="#72a83c"/>
<circle cx="388.9" cy="568.5" r="1.85" fill="#72a83c"/>
<circle cx="396.9" cy="567.3" r="1.85" fill="#72a83c"/>
<circle cx="407.3" cy="562.3" r="1.85" fill="#72a83c"/>
<circle cx="415" cy="562.7" r="1.85" fill="#72a83c"/>
<circle cx="425.8" cy="553.5" r="1.85" fill="#72a83c"/>
<circle cx="433.4" cy="547.3" r="1.85" fill="#72a83c"/>
<circle cx="445.9" cy="540.3" r="1.85" fill="#72a83c"/>
<path d="M314.35 611.13L318.25 611.13L316.3 607.73Z" fill="#98c05c"/>
<path d="M322.44 605.03L326.35 605.03L324.4 601.63Z" fill="#98c05c"/>
<path d="M332.35 596.53L336.25 596.53L334.3 593.13Z" fill="#98c05c"/>
<path d="M338.25 590.53L342.15 590.53L340.2 587.13Z" fill="#98c05c"/>
<path d="M342.65 584.53L346.56 584.53L344.6 581.13Z" fill="#98c05c"/>
<path d="M353.65 579.53L357.56 579.53L355.6 576.13Z" fill="#98c05c"/>
<path d="M361.35 570.53L365.25 570.53L363.3 567.13Z" fill="#98c05c"/>
<path d="M368.94 561.53L372.85 561.53L370.9 558.13Z" fill="#98c05c"/>
<path d="M374.25 553.53L378.15 553.53L376.2 550.13Z" fill="#98c05c"/>
<path d="M379.35 549.53L383.25 549.53L381.3 546.13Z" fill="#98c05c"/>
<path d="M387.65 546.53L391.56 546.53L389.6 543.13Z" fill="#98c05c"/>
<path d="M314.46 608.16L318.14 608.16L316.3 611.36Z" fill="#111"/>
<path d="M322.56 600.56L326.24 600.56L324.4 603.76Z" fill="#111"/>
<path d="M332.46 588.36L336.14 588.36L334.3 591.56Z" fill="#111"/>
<path d="M338.36 583.16L342.04 583.16L340.2 586.36Z" fill="#111"/>
<path d="M342.76 583.16L346.44 583.16L344.6 586.36Z" fill="#111"/>
<path d="M353.76 572.36L357.44 572.36L355.6 575.56Z" fill="#111"/>
<path d="M361.46 562.96L365.14 562.96L363.3 566.16Z" fill="#111"/>
<path d="M369.06 552.56L372.74 552.56L370.9 555.76Z" fill="#111"/>
<path d="M374.36 547.46L378.04 547.46L376.2 550.66Z" fill="#111"/>
<path d="M379.46 540.06L383.14 540.06L381.3 543.26Z" fill="#111"/>
<path d="M387.76 533.56L391.44 533.56L389.6 536.76Z" fill="#111"/>
<line x1="319.1" y1="628.3" x2="319.1" y2="620" stroke="#f0a040" stroke-width="1.1" />
<path d="M319.1 616.4L317 621.3L321.2 621.3Z" fill="#f0a040"/>
<text transform="translate(323.7,628) scale(0.816,1)" font-size="7.6" text-anchor="start" fill="#262626" stroke="#262626" stroke-width="0.3">5 Gy</text>
<line x1="359.2" y1="628.3" x2="359.2" y2="620" stroke="#f0a040" stroke-width="1.1" />
<path d="M359.2 616.4L357.1 621.3L361.3 621.3Z" fill="#f0a040"/>
<text transform="translate(363.8,628) scale(0.816,1)" font-size="7.6" text-anchor="start" fill="#262626" stroke="#262626" stroke-width="0.3">5 Gy</text>
<line x1="297.7" y1="663.1" x2="316" y2="663.1" stroke="#1a1a1a" stroke-width="1" />
<path d="M305.29 661.84L308.51 661.84L306.9 664.64Z" fill="#1a1a1a"/>
<text transform="translate(320.6,666.2) scale(0.888,1)" font-size="8" text-anchor="start" fill="#262626" stroke="#262626" stroke-width="0.3">Vehicle</text>
<line x1="297.7" y1="673.7" x2="316" y2="673.7" stroke="#a6d06e" stroke-width="1"  stroke-dasharray="2,1.6"/>
<rect x="305.5" y="672.3" width="2.8" height="2.8" fill="#a6d06e"/>
<text transform="translate(320.6,676.2) scale(0.914,1)" font-size="8" text-anchor="start" fill="#262626" stroke="#262626" stroke-width="0.3">BAY 1895344 (20 mg/kg; T/C<tspan dy="2.08" font-size="5.76">rel.area</tspan><tspan dy="-2.08"> = 0.87)</tspan></text>
<line x1="297.7" y1="684.8" x2="316" y2="684.8" stroke="#78b943" stroke-width="1" />
<circle cx="306.9" cy="684.8" r="1.4" fill="#78b943"/>
<text transform="translate(320.6,686.9) scale(0.906,1)" font-size="8" text-anchor="start" fill="#262626" stroke="#262626" stroke-width="0.3">BAY 1895344 (50 mg/kg) (**, day 39; T/C<tspan dy="2.08" font-size="5.76">rel.area</tspan><tspan dy="-2.08"> = 0.55)</tspan></text>
<line x1="297.7" y1="695.8" x2="316" y2="695.8" stroke="#f7d6a8" stroke-width="1" />
<circle cx="306.9" cy="695.8" r="1.5" fill="#f0a33a"/>
<text transform="translate(320.6,698.3) scale(0.906,1)" font-size="8" text-anchor="start" fill="#262626" stroke="#262626" stroke-width="0.3">Radiation (***, day 39; T/C<tspan dy="2.08" font-size="5.76">rel.area</tspan><tspan dy="-2.08"> = 0.44)</tspan></text>
<line x1="297.7" y1="708.1" x2="316" y2="708.1" stroke="#4aa6d6" stroke-width="1"  stroke-dasharray="2,1.6"/>
<rect x="305.4" y="706.6" width="3" height="3" fill="#fff" stroke="#4aa6d6" stroke-width="0.8"/>
<text transform="translate(320.6,710.6) scale(0.904,1)" font-size="8" text-anchor="start" fill="#262626" stroke="#262626" stroke-width="0.3">BAY 1895344 (20 mg/kg) + radiation</text>
<line x1="297.7" y1="736.5" x2="316" y2="736.5" stroke="#5ab3de" stroke-width="1" />
<circle cx="306.9" cy="736.5" r="1.5" fill="#fff" stroke="#5ab3de" stroke-width="0.8"/>
<text transform="translate(320.6,738.7) scale(0.904,1)" font-size="8" text-anchor="start" fill="#262626" stroke="#262626" stroke-width="0.3">BAY 1895344 (50 mg/kg) + radiation</text>
<text transform="translate(320.8,719.2) scale(0.911,1)" font-size="8" text-anchor="start" fill="#262626" stroke="#262626" stroke-width="0.3">[***, day 39 vs.vehicle; ***, vs. BAY 1895344 (20 mg/kg);</text>
<text transform="translate(323.7,727.3) scale(0.898,1)" font-size="8" text-anchor="start" fill="#262626" stroke="#262626" stroke-width="0.3">*, vs.radiation; T/C<tspan dy="2.08" font-size="5.76">rel.area</tspan><tspan dy="-2.08"> = 0.22]</tspan></text>
<text transform="translate(320.8,747.7) scale(0.911,1)" font-size="8" text-anchor="start" fill="#262626" stroke="#262626" stroke-width="0.3">[***, day 39 vs.vehicle; ***, vs. BAY 1895344 (50 mg/kg);</text>
<text transform="translate(322.3,756.4) scale(0.911,1)" font-size="8" text-anchor="start" fill="#262626" stroke="#262626" stroke-width="0.3">***, vs.radiation; T/C<tspan dy="2.08" font-size="5.76">rel.area</tspan><tspan dy="-2.08"> = -0.05]</tspan></text>
</svg></body></html>
